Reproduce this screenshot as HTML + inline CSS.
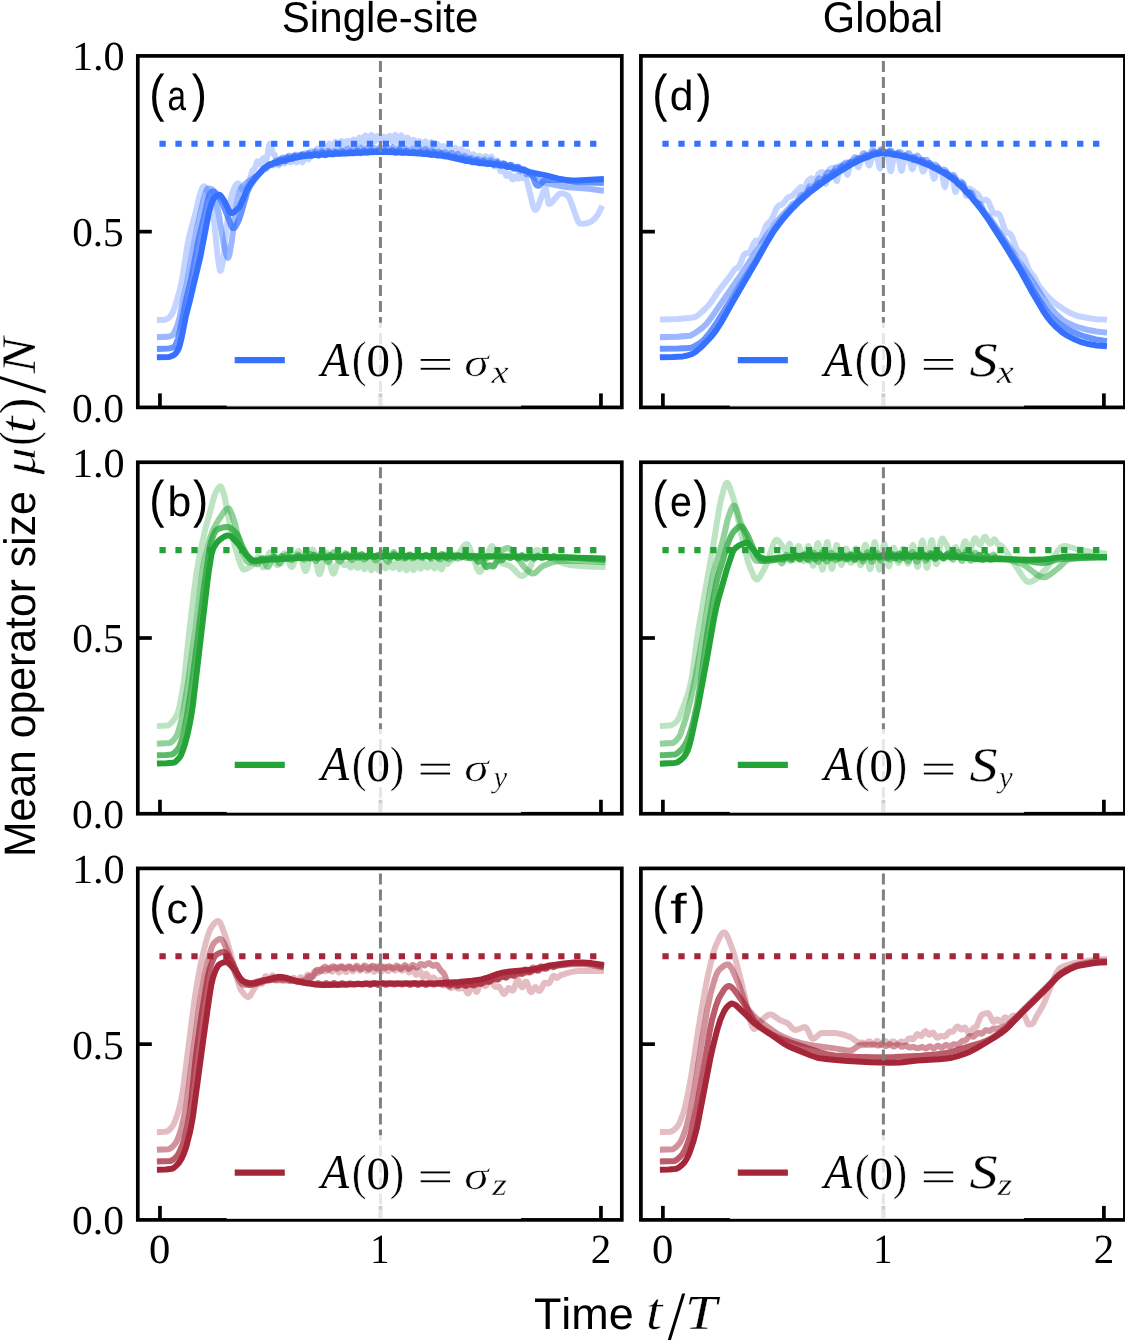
<!DOCTYPE html>
<html><head><meta charset="utf-8"><style>
html,body{margin:0;padding:0;background:#fff;}
body{width:1125px;height:1340px;overflow:hidden;}
svg{display:block;will-change:transform;}
text{font-kerning:none;text-rendering:geometricPrecision;}
</style></head><body>
<svg width="1125" height="1340" viewBox="0 0 1125 1340">
<rect width="1125" height="1340" fill="#fff"/>
<line x1="159.95" y1="407.40" x2="159.95" y2="393.40" stroke="#000" stroke-width="3.7" />
<line x1="380.45" y1="407.40" x2="380.45" y2="393.40" stroke="#000" stroke-width="3.7" />
<line x1="600.95" y1="407.40" x2="600.95" y2="393.40" stroke="#000" stroke-width="3.7" />
<line x1="137.80" y1="231.65" x2="151.80" y2="231.65" stroke="#000" stroke-width="3.7" />
<path d="M159.9 319.9L164.9 319.7L166.9 319.0L168.9 317.8L170.4 316.2L172.4 313.1L173.4 311.0L174.9 306.7L178.9 293.4L181.4 283.2L182.9 274.8L187.4 245.4L189.4 235.4L195.9 211.5L199.4 195.8L202.4 187.6L203.4 186.4L203.9 186.3L204.9 186.9L205.9 188.2L208.4 193.0L210.4 200.5L212.4 211.3L214.4 224.3L217.4 253.8L218.9 264.8L219.9 270.2L220.4 270.9L220.9 270.3L221.4 268.9L223.4 259.3L226.4 229.3L227.9 217.6L230.9 198.4L231.9 194.1L232.9 191.2L235.4 185.7L236.4 184.3L237.4 183.5L238.4 183.6L238.9 184.1L241.4 188.5L242.4 189.8L242.9 190.0L243.9 189.7L245.4 188.1L247.9 184.1L248.9 181.9L252.4 170.7L252.9 170.0L254.4 168.9L254.9 168.1L256.9 162.2L257.4 161.4L257.9 161.2L258.4 161.6L259.9 164.0L260.4 164.4L260.9 164.1L261.4 163.1L262.9 158.9L263.4 158.1L263.9 158.0L265.4 160.3L265.9 160.6L266.4 160.0L267.4 155.8L268.9 146.4L269.4 144.6L269.9 144.0L270.4 144.6L270.9 146.1L272.9 153.4L273.4 154.1L274.4 154.6L274.9 155.2L277.4 163.8L277.9 165.0L278.4 165.5L278.9 165.0L280.9 159.6L281.4 159.1L281.9 159.3L283.9 163.2L284.4 163.4L284.9 163.0L286.4 160.0L287.4 158.7L287.9 158.9L288.4 159.5L289.9 162.1L290.4 162.4L290.9 162.2L292.9 157.9L293.4 157.3L293.9 157.4L295.9 162.0L296.4 162.5L296.9 162.2L297.4 161.1L298.9 156.0L299.4 155.2L299.9 155.4L300.4 156.5L301.9 161.6L302.4 162.2L302.9 161.7L304.9 154.2L305.4 153.4L305.9 153.6L307.4 158.0L307.9 159.2L308.4 159.4L308.9 158.7L310.4 153.3L310.9 151.8L311.4 151.1L311.9 151.1L313.9 154.7L314.4 154.7L314.9 154.1L316.9 149.0L317.4 148.5L317.9 148.5L319.9 151.1L320.4 151.2L320.9 150.9L321.4 150.0L322.9 146.6L323.4 146.0L323.9 146.1L324.4 146.7L325.9 149.9L326.4 150.4L326.9 150.1L327.4 149.0L328.9 144.3L329.4 143.6L329.9 143.7L330.4 144.7L331.9 149.5L332.4 150.1L332.9 149.7L333.4 148.3L334.9 142.5L335.4 141.7L335.9 142.0L337.9 148.4L338.4 148.9L338.9 148.4L340.4 143.1L340.9 141.7L341.4 141.0L341.9 141.3L343.9 146.2L344.4 146.5L344.9 146.0L346.9 141.1L347.4 140.7L347.9 140.9L349.4 143.4L349.9 144.1L350.4 144.3L350.9 144.0L351.4 143.2L352.9 140.0L353.4 139.5L353.9 139.6L355.9 143.1L356.4 143.5L356.9 143.2L358.9 138.2L359.4 137.5L359.9 137.6L360.4 138.5L361.9 142.9L362.4 143.5L362.9 143.1L363.4 141.8L364.9 136.2L365.4 135.5L365.9 135.7L367.9 142.3L368.4 142.9L368.9 142.4L370.4 137.0L370.9 135.5L371.4 134.9L371.9 135.3L373.4 140.0L373.9 141.2L374.4 141.6L374.9 141.2L376.9 136.3L377.4 135.9L377.9 136.3L379.9 140.3L380.4 140.6L380.9 140.4L382.9 136.8L383.4 136.5L383.9 136.7L384.4 137.4L385.9 140.3L386.4 140.7L386.9 140.5L387.4 139.8L388.9 136.4L389.4 135.8L389.9 136.0L390.4 136.9L391.9 141.1L392.4 141.8L392.9 141.5L393.4 140.4L394.9 135.5L395.4 134.9L395.9 135.2L396.4 136.6L397.9 142.2L398.4 142.9L398.9 142.6L400.9 136.1L401.4 135.5L401.9 136.0L403.4 141.4L403.9 142.8L404.4 143.4L404.9 143.1L406.9 137.9L407.4 137.6L407.9 138.1L409.9 143.0L410.4 143.4L410.9 143.2L412.9 139.9L413.4 139.7L413.9 140.0L415.9 144.0L416.4 144.5L416.9 144.5L417.4 144.0L418.9 141.3L419.4 141.0L419.9 141.3L421.9 146.4L422.4 147.1L422.9 147.0L423.4 146.2L424.9 142.0L425.4 141.5L425.9 141.9L426.4 143.2L427.9 148.7L428.4 149.5L428.9 149.3L430.9 142.8L431.4 142.2L431.9 142.7L433.9 149.8L434.4 150.5L434.9 150.1L436.4 145.5L436.9 144.3L437.4 144.0L437.9 144.4L439.9 149.9L440.4 150.4L440.9 150.1L442.9 146.2L443.4 146.0L443.9 146.3L445.4 149.4L446.4 150.7L446.9 150.6L447.4 150.1L448.9 147.5L449.4 147.2L449.9 147.5L451.9 152.1L452.4 152.7L452.9 152.7L453.4 152.0L454.9 148.4L455.4 147.9L455.9 148.3L456.4 149.5L457.9 154.9L458.4 155.8L458.9 155.7L459.4 154.6L460.9 149.7L461.4 149.2L461.9 149.8L463.9 157.4L464.4 158.2L464.9 157.9L466.4 153.3L466.9 152.0L467.4 151.7L467.9 152.2L469.9 158.5L470.4 159.1L470.9 158.8L472.9 154.5L473.4 154.3L473.9 154.7L475.9 158.9L476.4 159.3L476.9 159.2L478.9 156.0L479.4 155.7L479.9 156.0L480.4 156.8L481.9 160.0L482.4 160.5L482.9 160.5L483.4 159.8L484.9 156.5L485.4 156.0L485.9 156.3L486.4 157.4L487.9 162.1L488.4 162.9L488.9 162.8L489.4 161.8L490.9 157.2L491.4 156.7L491.9 157.3L492.4 158.9L493.9 165.3L494.4 166.4L494.9 166.3L496.9 161.2L497.4 161.0L497.9 161.9L499.4 168.3L500.4 171.1L500.9 171.2L502.9 167.8L503.4 167.9L503.9 168.7L505.9 175.0L506.4 175.7L506.9 175.9L508.4 174.2L508.9 173.7L509.4 173.8L509.9 174.3L511.9 178.9L512.5 179.5L513.0 179.5L513.5 178.9L514.5 177.0L515.0 176.3L515.5 176.1L516.0 176.5L517.5 178.5L518.0 178.8L520.0 178.0L525.0 178.0L525.5 178.2L526.0 178.8L527.0 181.1L528.0 184.5L533.0 206.0L534.0 208.7L535.0 209.9L536.0 209.7L537.5 207.5L539.0 203.8L543.0 192.5L544.5 189.7L545.5 188.9L546.0 189.2L546.5 191.1L548.0 201.2L548.5 203.5L549.0 204.0L550.5 203.5L552.0 202.2L557.0 196.0L559.5 193.8L561.0 193.4L563.0 193.6L565.5 194.4L567.5 195.4L569.0 197.4L570.5 200.7L577.0 219.1L578.5 222.1L580.0 223.6L583.5 223.7L587.0 223.2L589.5 222.4L592.0 221.0L594.5 218.8L596.5 216.4L599.0 212.5L600.9 208.5" fill="none" stroke="#3670ff" stroke-opacity="0.30" stroke-width="6" stroke-linejoin="round" stroke-linecap="square" />
<path d="M159.9 337.1L167.4 336.8L170.4 336.1L172.4 335.2L173.4 334.1L174.4 332.4L177.4 325.5L179.9 316.2L182.9 300.3L186.9 283.8L192.9 248.4L196.4 231.0L203.9 198.5L206.4 190.8L207.4 188.8L207.9 188.4L209.4 188.5L210.9 189.0L212.9 190.0L213.4 190.5L214.4 193.1L218.4 212.3L223.4 242.5L226.4 255.0L227.4 257.4L227.9 257.8L228.4 257.4L229.4 254.5L231.9 240.3L235.9 205.3L237.9 196.0L238.9 192.5L239.9 190.1L241.9 187.1L243.9 185.1L248.4 181.4L257.4 175.2L260.9 172.2L263.4 168.9L264.4 168.5L265.9 168.8L266.4 168.5L269.4 164.2L270.4 164.0L271.9 165.1L272.9 165.3L273.9 164.2L275.4 161.2L275.9 160.6L276.4 160.4L276.9 160.6L278.9 163.3L279.4 163.4L280.4 162.0L281.9 158.3L282.4 157.6L282.9 157.5L283.4 157.9L284.9 160.7L285.4 161.3L285.9 161.4L286.4 160.9L288.4 156.4L288.9 155.8L289.4 155.7L289.9 156.2L291.4 158.6L291.9 159.1L292.4 159.1L292.9 158.7L294.9 155.3L295.4 154.8L295.9 154.8L296.4 155.1L298.4 157.1L299.4 156.8L301.9 154.0L302.9 154.1L304.4 155.6L305.4 156.1L306.4 155.3L307.9 153.1L308.4 152.7L308.9 152.6L309.4 152.9L311.4 155.7L311.9 155.9L312.4 155.6L312.9 154.9L314.4 151.8L314.9 151.3L315.4 151.2L315.9 151.7L317.4 154.8L317.9 155.5L318.4 155.7L318.9 155.3L320.9 151.1L321.4 150.6L321.9 150.6L322.4 151.2L323.9 154.2L324.4 154.8L324.9 154.9L325.4 154.6L326.9 151.9L327.9 150.8L328.4 150.8L328.9 151.3L330.4 153.4L331.4 153.9L331.9 153.7L333.4 151.8L334.4 151.0L335.4 151.3L336.9 152.9L337.9 153.3L338.9 152.7L340.4 150.8L341.4 150.3L341.9 150.6L343.9 153.1L344.4 153.2L345.4 152.3L346.9 149.5L347.4 148.9L347.9 148.8L348.4 149.3L349.9 152.1L350.4 152.8L350.9 153.0L351.4 152.6L351.9 151.8L353.4 148.3L353.9 147.8L354.4 147.8L354.9 148.3L356.4 151.5L356.9 152.1L357.4 152.3L357.9 151.9L359.4 149.0L360.4 147.7L360.9 147.8L361.4 148.3L362.9 150.7L363.4 151.1L363.9 151.2L364.4 150.9L366.4 148.3L366.9 148.0L367.9 148.4L369.4 150.0L370.4 150.5L371.4 149.9L372.9 148.1L373.9 147.8L374.4 148.1L376.4 150.4L376.9 150.6L377.9 149.9L379.4 147.6L379.9 147.1L380.4 147.1L380.9 147.5L382.9 151.0L383.4 151.3L383.9 151.0L384.4 150.3L385.9 147.2L386.4 146.6L386.9 146.7L387.4 147.3L388.9 150.6L389.4 151.4L389.9 151.6L390.4 151.3L392.4 147.4L392.9 147.0L393.4 147.1L393.9 147.7L395.4 150.5L395.9 151.1L396.4 151.2L396.9 151.0L398.9 148.2L399.4 148.0L400.4 148.5L402.4 150.8L403.4 150.8L405.4 148.8L406.4 148.6L408.9 151.2L409.4 151.4L410.4 150.8L411.9 148.8L412.4 148.5L412.9 148.5L413.4 148.9L415.4 152.2L415.9 152.5L416.4 152.3L416.9 151.6L418.4 148.8L418.9 148.3L419.4 148.3L419.9 148.9L421.4 152.3L421.9 153.1L422.4 153.4L422.9 153.2L424.9 149.3L425.4 148.9L425.9 149.0L426.4 149.6L427.9 152.8L428.4 153.5L428.9 153.7L429.4 153.5L430.9 151.1L431.9 150.2L432.4 150.4L432.9 150.9L434.4 153.2L435.4 153.8L435.9 153.7L437.4 152.2L438.4 151.6L439.4 152.0L440.9 153.9L441.9 154.6L442.9 154.2L444.4 152.5L444.9 152.3L445.4 152.3L445.9 152.8L447.9 156.0L448.4 156.3L448.9 156.2L449.4 155.7L450.9 153.2L451.4 152.8L451.9 152.9L452.4 153.5L453.9 156.9L454.4 157.8L454.9 158.2L455.4 158.0L455.9 157.3L457.4 154.3L457.9 153.9L458.4 154.1L458.9 154.8L460.4 158.3L460.9 159.1L461.4 159.4L461.9 159.2L463.4 156.8L464.4 155.8L464.9 156.0L465.4 156.6L466.9 159.4L467.9 160.1L468.4 160.0L469.9 158.4L470.9 157.8L471.9 158.4L473.4 160.4L474.4 161.1L475.4 160.7L476.9 159.2L477.9 159.1L478.4 159.5L480.4 162.3L480.9 162.6L481.4 162.5L481.9 162.0L483.4 159.8L483.9 159.4L484.4 159.4L484.9 159.9L486.9 163.8L487.4 164.2L487.9 164.0L488.4 163.3L489.9 160.3L490.4 159.8L490.9 159.9L491.4 160.6L492.9 164.1L493.4 164.9L493.9 165.2L494.4 165.0L495.9 162.2L496.9 161.2L497.4 161.3L497.9 162.0L499.4 164.9L499.9 165.6L500.4 165.8L500.9 165.6L502.9 163.3L503.4 163.2L504.4 163.9L505.9 166.1L506.9 166.9L507.9 166.5L509.4 165.3L510.4 165.4L513.0 168.7L513.5 169.0L514.0 169.0L514.5 168.7L516.0 167.0L516.5 166.8L517.0 166.9L517.5 167.5L519.5 171.6L520.0 172.0L520.5 172.0L521.0 171.5L522.5 169.2L523.0 168.9L523.5 169.1L524.0 169.9L525.0 172.5L526.0 174.2L526.5 174.4L528.0 173.7L529.0 173.8L530.0 174.7L541.5 181.5L544.0 182.7L547.5 183.6L568.0 187.3L586.5 188.6L600.9 190.4" fill="none" stroke="#3670ff" stroke-opacity="0.50" stroke-width="6" stroke-linejoin="round" stroke-linecap="square" />
<path d="M159.9 348.8L168.9 348.4L171.4 347.9L173.9 347.0L174.4 346.7L175.4 345.3L177.9 339.1L179.4 333.3L185.9 300.3L191.4 277.9L198.4 240.6L205.4 211.5L207.9 199.3L208.9 196.1L209.9 194.4L211.9 191.9L212.4 191.6L213.4 191.5L214.4 191.9L215.9 193.0L218.9 196.2L220.9 199.9L226.4 213.0L230.9 225.2L232.4 227.7L232.9 228.1L233.9 228.1L234.9 227.3L235.9 225.8L238.9 219.9L240.4 215.6L247.4 191.7L249.9 186.5L252.4 182.4L254.9 179.0L258.4 174.8L261.4 171.6L264.4 168.8L266.9 166.9L270.9 164.7L273.4 162.9L274.4 162.7L275.9 163.2L276.9 163.0L279.4 160.0L280.4 159.4L280.9 159.4L282.9 161.0L283.4 161.1L284.4 160.5L285.9 158.2L286.9 157.2L287.9 157.2L289.4 158.7L290.4 159.1L291.4 158.6L292.9 156.6L293.9 155.8L294.9 155.9L296.4 157.0L297.4 157.3L298.4 156.9L299.9 155.5L300.9 155.0L301.9 155.1L304.4 156.1L305.4 155.8L307.4 154.4L308.4 154.2L309.4 154.5L310.9 155.5L311.9 155.6L314.9 153.3L315.9 153.4L317.9 155.3L318.9 155.5L321.9 152.5L322.9 152.7L324.4 154.5L325.4 155.2L326.4 154.8L327.9 152.9L328.9 152.2L329.9 152.5L331.4 154.0L332.4 154.5L333.4 154.1L334.9 152.8L335.9 152.3L336.9 152.4L338.4 153.4L339.4 153.7L340.4 153.5L342.4 152.2L343.4 152.0L345.9 153.3L346.9 153.4L347.9 152.9L349.4 151.6L350.4 151.3L351.4 151.8L352.9 153.2L353.9 153.4L356.9 150.6L357.9 150.8L359.9 153.0L360.9 153.2L363.4 150.5L363.9 150.2L364.9 150.5L366.4 152.1L367.4 152.7L368.4 152.3L369.9 150.8L370.9 150.2L371.9 150.5L373.4 151.6L374.4 151.9L375.4 151.7L377.9 150.3L378.9 150.4L380.9 151.6L381.9 151.8L384.4 150.3L385.4 150.1L386.4 150.6L387.9 152.0L388.9 152.2L391.9 149.9L392.9 150.2L394.9 152.5L395.4 152.8L396.4 152.5L397.9 150.7L398.9 150.0L399.9 150.4L401.4 152.2L402.4 153.0L403.4 152.7L404.9 151.2L405.9 150.7L406.9 151.0L408.4 152.4L409.4 152.9L410.4 152.7L411.9 151.7L412.9 151.4L413.9 151.6L416.4 153.1L417.4 153.0L419.4 151.9L420.4 151.8L421.4 152.3L422.9 153.6L423.9 153.9L424.9 153.4L426.4 152.2L427.4 152.0L428.4 152.8L429.9 154.5L430.9 154.9L431.9 154.2L433.4 152.6L433.9 152.4L434.9 152.8L436.4 154.8L437.4 155.6L438.4 155.4L439.9 153.9L440.9 153.3L441.9 153.8L443.4 155.5L444.4 156.2L445.4 156.1L446.9 155.1L447.9 154.9L448.9 155.3L451.4 157.2L452.4 157.3L454.4 156.5L455.4 156.6L457.9 158.6L458.9 159.0L459.9 158.8L461.4 157.8L462.4 157.8L463.4 158.7L464.9 160.5L465.9 161.0L466.9 160.4L468.4 159.0L469.4 158.9L472.4 162.4L473.4 162.2L474.9 160.6L475.9 160.1L476.9 160.6L478.4 162.5L479.4 163.2L480.4 163.0L481.9 161.8L482.9 161.4L483.9 161.8L485.4 163.1L486.4 163.6L487.4 163.5L489.9 162.4L490.9 162.7L492.9 164.1L493.9 164.4L494.9 164.1L496.4 163.2L497.4 163.1L498.4 163.8L499.9 165.3L500.9 165.7L501.9 165.2L503.4 163.8L504.4 163.7L505.4 164.6L506.9 166.7L507.9 167.1L508.4 166.9L510.4 164.9L510.9 164.7L511.9 165.3L514.0 167.9L515.0 168.4L517.0 167.1L518.0 166.8L519.0 167.3L521.5 169.9L522.5 170.1L524.0 169.7L525.0 169.7L526.0 170.4L528.5 173.2L529.5 173.8L531.0 173.9L531.5 174.3L533.0 176.9L535.5 183.7L536.5 185.1L537.5 185.7L539.0 185.6L540.0 185.0L543.5 180.8L545.0 180.0L562.0 180.0L575.5 182.0L600.9 182.9" fill="none" stroke="#3670ff" stroke-opacity="0.75" stroke-width="6" stroke-linejoin="round" stroke-linecap="square" />
<path d="M159.9 357.2L168.4 357.0L170.4 356.6L172.9 355.5L174.4 354.7L175.9 353.2L177.4 351.0L178.9 347.9L179.9 344.7L181.9 336.2L185.9 316.0L189.9 300.4L200.4 256.5L208.9 212.2L210.9 205.1L213.4 199.1L214.4 197.6L216.9 195.6L218.4 194.9L219.4 194.8L219.9 195.0L221.4 196.6L224.4 201.1L228.4 209.5L229.9 211.9L230.9 212.8L231.4 213.0L232.4 212.9L233.9 212.2L236.9 209.6L238.9 207.4L239.9 206.0L241.9 201.8L246.9 189.7L248.9 186.3L251.9 182.0L255.9 177.1L263.4 168.8L266.9 166.0L270.4 164.3L276.9 162.1L294.4 157.8L302.9 156.3L314.9 155.1L326.9 154.3L375.4 152.0L388.4 152.0L406.9 152.7L423.4 153.7L440.9 155.5L448.4 156.8L464.9 160.5L472.4 161.9L479.9 163.0L493.9 164.2L502.9 165.4L518.0 168.6L531.0 172.4L546.0 175.4L558.5 178.7L565.0 179.7L571.5 180.4L577.0 180.6L600.9 179.2" fill="none" stroke="#3670ff" stroke-opacity="1.00" stroke-width="6" stroke-linejoin="round" stroke-linecap="square" />
<line x1="159.45" y1="143.78" x2="600.95" y2="143.78" stroke="#3670ff" stroke-width="6.1" stroke-dasharray="6.3 9.65" />
<line x1="380.45" y1="55.90" x2="380.45" y2="407.40" stroke="#808080" stroke-width="3" stroke-dasharray="11 5" stroke-dashoffset="10.94" />
<rect x="137.80" y="55.90" width="484.00" height="351.50" fill="none" stroke="#000" stroke-width="3.7" />
<rect x="226.70" y="322.70" width="294.30" height="83.80" fill="#fff" fill-opacity="0.8" />
<text transform="translate(149.25 110.77) scale(0.4601 0.5184)" font-family='"Liberation Sans",sans-serif' font-style="normal" font-size="100" fill="#000" >(</text>
<text transform="translate(167.39 110.10) scale(0.3329 0.4200)" font-family='"Liberation Sans",sans-serif' font-style="normal" font-size="100" fill="#000">a</text>
<text transform="translate(191.63 110.77) scale(0.4564 0.5184)" font-family='"Liberation Sans",sans-serif' font-style="normal" font-size="100" fill="#000" >)</text>
<line x1="234.70" y1="360.10" x2="284.80" y2="360.10" stroke="#3670ff" stroke-width="6.2" />
<text transform="translate(320.92 375.60) scale(0.4604 0.4862)" font-family='"Liberation Serif",serif' font-style="italic" font-size="100" fill="#000" >A</text>
<text transform="translate(351.70 376.21) scale(0.4439 0.4996)" font-family='"Liberation Serif",serif' font-style="normal" font-size="100" fill="#000"  stroke="#fff" stroke-width="1.092">(</text>
<text transform="translate(366.41 376.45) scale(0.4695 0.4579)" font-family='"Liberation Serif",serif' font-style="normal" font-size="100" fill="#000" >0</text>
<text transform="translate(389.76 376.21) scale(0.4322 0.4996)" font-family='"Liberation Serif",serif' font-style="normal" font-size="100" fill="#000"  stroke="#fff" stroke-width="1.107">)</text>
<rect x="420.70" y="359.00" width="29.4" height="1.85" fill="#000"/>
<rect x="420.70" y="367.85" width="29.4" height="1.85" fill="#000"/>
<text transform="translate(464.18 376.25) scale(0.4948 0.4054)" font-family='"Liberation Serif",serif' font-style="italic" font-size="100" fill="#000"  stroke="#fff" stroke-width="1.612">σ</text>
<text transform="translate(491.47 383.00) scale(0.3833 0.3333)" font-family='"Liberation Serif",serif' font-style="italic" font-size="100" fill="#000"  stroke="#fff" stroke-width="1.147">x</text>
<line x1="159.95" y1="813.75" x2="159.95" y2="799.75" stroke="#000" stroke-width="3.7" />
<line x1="380.45" y1="813.75" x2="380.45" y2="799.75" stroke="#000" stroke-width="3.7" />
<line x1="600.95" y1="813.75" x2="600.95" y2="799.75" stroke="#000" stroke-width="3.7" />
<line x1="137.80" y1="638.00" x2="151.80" y2="638.00" stroke="#000" stroke-width="3.7" />
<path d="M159.9 725.9L167.4 725.6L168.9 725.0L170.4 723.7L173.9 719.9L175.9 716.7L177.9 712.1L179.4 706.9L181.9 694.2L183.9 681.4L188.9 634.8L193.9 592.1L196.4 573.5L198.9 558.8L201.4 546.4L204.9 531.0L213.4 499.0L214.9 494.4L215.9 492.1L218.4 487.9L219.9 486.5L220.4 486.4L220.9 486.6L221.9 488.2L224.4 495.6L227.9 514.8L230.9 529.3L233.4 540.6L235.4 548.2L239.4 561.3L240.9 565.5L242.4 568.4L243.4 569.4L243.9 569.6L245.4 569.4L247.4 568.6L254.9 563.6L256.9 558.6L257.9 557.1L258.4 557.0L258.9 557.3L259.4 558.1L261.4 564.4L262.4 566.7L262.9 567.3L263.4 567.5L263.9 567.2L265.4 564.2L268.4 554.7L269.4 552.8L270.4 552.2L270.9 552.4L271.9 553.8L275.9 563.9L276.9 565.1L277.4 565.3L278.4 564.7L279.4 563.1L282.9 554.7L283.9 553.4L284.4 553.2L284.9 553.3L285.4 553.7L286.4 555.3L289.4 563.7L290.4 565.9L291.4 567.0L291.9 567.0L292.4 566.6L293.4 564.8L296.9 553.3L297.9 551.3L298.4 550.9L298.9 551.0L299.4 551.5L300.4 553.8L303.4 566.3L304.4 569.6L305.4 571.1L305.9 571.0L306.4 570.4L307.4 567.7L310.9 552.1L311.9 549.7L312.4 549.4L312.9 549.6L313.9 551.8L317.9 571.1L318.9 573.7L319.4 574.1L319.9 573.9L320.4 573.2L321.4 570.1L324.9 554.4L325.9 552.4L326.4 552.2L326.9 552.5L327.9 554.8L331.9 571.5L332.9 573.4L333.4 573.7L333.9 573.4L334.9 571.7L338.4 559.7L338.9 558.5L339.4 558.2L339.9 558.4L340.4 558.9L342.9 563.8L343.9 564.9L344.4 565.1L345.4 565.0L346.9 564.0L347.4 563.8L347.9 564.0L350.4 567.5L350.9 567.5L351.4 566.9L352.9 563.7L353.9 562.7L354.4 562.8L354.9 563.4L356.9 567.5L357.4 567.9L357.9 567.8L358.4 567.1L360.4 562.5L360.9 562.0L361.4 562.1L361.9 562.9L363.9 568.7L364.4 569.3L364.9 569.1L365.4 568.2L366.9 562.8L367.4 561.3L367.9 560.7L368.4 560.9L368.9 562.1L370.4 568.1L370.9 569.7L371.4 570.3L371.9 570.0L372.4 568.8L373.9 562.6L374.4 561.1L374.9 560.5L375.4 560.9L375.9 562.2L377.4 568.0L377.9 569.3L378.4 569.8L378.9 569.4L379.4 568.3L380.9 563.2L381.4 562.1L381.9 561.8L382.4 562.1L382.9 563.1L384.4 567.3L384.9 568.1L385.4 568.5L385.9 568.2L386.4 567.4L387.9 564.0L388.4 563.2L388.9 562.9L389.4 563.1L389.9 563.8L391.9 567.7L392.4 568.0L392.9 567.9L393.4 567.3L395.4 563.0L395.9 562.6L396.4 562.7L396.9 563.4L398.4 567.4L399.4 569.1L399.9 568.9L400.4 568.1L401.9 563.2L402.4 561.9L402.9 561.2L403.4 561.4L403.9 562.5L405.4 568.2L405.9 569.6L406.4 570.3L406.9 570.0L407.4 568.8L408.9 562.7L409.4 561.1L409.9 560.5L410.4 560.8L410.9 562.1L412.4 568.2L412.9 569.6L413.4 570.2L413.9 569.8L414.4 568.6L415.9 563.0L416.4 561.8L416.9 561.3L417.4 561.7L417.9 562.7L419.4 567.4L419.9 568.4L420.4 568.8L420.9 568.5L421.4 567.6L422.9 563.7L423.4 562.9L423.9 562.6L424.4 562.8L424.9 563.5L426.4 566.7L426.9 567.5L427.4 567.8L427.9 567.6L428.4 567.0L430.4 563.0L430.9 562.6L431.4 562.7L431.9 563.3L433.9 567.8L434.4 568.3L434.9 568.2L435.4 567.4L437.4 561.8L437.9 561.2L438.4 561.3L438.9 562.3L440.9 568.8L441.4 569.4L441.9 569.1L442.4 567.9L444.4 560.1L444.9 559.7L445.4 560.2L446.9 563.4L447.4 563.9L447.9 563.9L449.9 561.3L455.9 557.2L457.9 554.7L463.4 546.4L465.4 544.5L466.9 544.0L467.9 544.6L469.4 547.3L476.9 567.9L478.4 571.1L479.4 572.0L479.9 571.9L480.9 571.1L482.4 568.4L486.4 559.0L489.9 548.8L490.9 546.8L491.9 546.0L492.9 546.6L493.9 548.1L497.9 558.6L499.4 561.5L500.4 562.3L501.9 563.1L507.9 565.1L510.4 566.3L512.5 567.9L518.5 574.3L520.0 575.4L521.5 576.0L523.0 575.8L525.0 574.6L527.0 572.4L530.0 568.1L531.5 564.3L535.0 552.0L536.0 550.2L536.5 550.0L538.0 550.2L540.0 551.0L547.0 555.5L559.0 561.4L563.5 563.4L567.0 564.4L571.5 565.2L584.0 566.3L593.5 566.8L602.5 567.0" fill="none" stroke="#24a436" stroke-opacity="0.30" stroke-width="6" stroke-linejoin="round" stroke-linecap="square" />
<path d="M159.9 743.5L168.9 743.0L169.9 742.8L171.4 742.0L173.9 739.6L176.4 736.3L177.4 734.1L178.9 729.5L181.4 720.2L182.9 713.2L187.9 683.8L195.4 629.1L201.9 574.6L203.4 564.9L204.9 557.5L208.9 541.7L210.9 535.5L213.4 529.3L216.9 522.6L223.4 512.7L225.4 510.1L227.4 508.6L228.4 508.4L228.9 508.6L229.9 509.8L232.4 515.7L234.9 523.2L239.4 543.2L243.4 554.7L245.9 560.1L246.9 561.4L247.9 562.0L251.4 562.7L254.9 563.0L256.4 564.0L257.4 564.3L257.9 564.1L258.9 563.0L260.9 558.7L261.4 558.1L261.9 557.8L262.4 557.9L262.9 558.3L263.9 559.9L266.4 565.6L267.4 566.8L267.9 566.9L268.4 566.7L269.4 565.2L271.9 558.9L273.4 556.4L273.9 556.1L274.9 556.6L278.4 562.9L279.4 563.7L279.9 563.7L280.4 563.4L281.4 562.1L284.4 556.3L285.4 555.3L285.9 555.1L286.4 555.2L287.4 555.9L290.4 559.7L291.4 560.3L291.9 560.3L293.4 559.3L295.9 555.9L297.4 554.6L298.4 554.6L299.4 555.2L302.4 558.8L303.9 559.7L304.4 559.6L305.4 559.0L308.9 554.3L309.9 553.8L310.4 553.8L311.9 555.2L314.9 560.3L315.9 560.9L316.4 560.9L317.4 560.0L320.4 553.9L321.4 552.6L321.9 552.4L322.4 552.5L323.4 553.6L326.4 560.4L327.4 561.8L327.9 562.0L328.4 561.8L329.4 560.6L332.4 553.6L333.4 552.3L333.9 552.1L334.4 552.2L335.4 553.5L338.4 560.2L339.4 561.4L339.9 561.5L340.4 561.3L341.4 560.1L343.9 555.1L344.9 553.6L345.4 553.3L345.9 553.2L346.9 553.8L349.9 558.6L351.4 560.0L351.9 560.1L352.9 559.6L355.9 555.7L357.4 554.5L357.9 554.4L358.9 554.8L362.4 558.7L363.9 559.5L365.4 558.8L368.4 555.1L369.9 554.2L370.4 554.2L371.4 554.8L374.4 559.3L375.4 560.3L375.9 560.5L376.4 560.4L377.4 559.6L380.4 554.2L381.4 553.0L381.9 552.8L382.4 552.9L383.4 553.8L386.4 560.2L387.4 561.6L387.9 561.8L388.4 561.7L389.4 560.5L392.4 553.5L393.4 552.2L393.9 552.0L397.4 557.5L398.4 557.9L400.4 556.9L401.4 556.8L403.4 558.2L404.4 558.6L405.4 558.1L407.4 555.6L408.4 555.2L409.4 555.5L411.9 558.1L412.9 558.5L413.9 558.2L416.4 556.1L417.4 555.7L418.4 556.0L421.4 558.1L422.4 558.2L423.4 557.8L425.4 556.0L426.4 555.5L426.9 555.6L427.9 556.1L430.4 558.6L431.4 558.8L432.4 558.1L434.4 555.5L435.4 554.9L435.9 554.9L436.9 555.7L439.4 559.2L440.4 559.4L441.4 558.4L443.4 555.2L444.4 554.5L445.4 555.0L447.9 558.7L448.9 559.4L449.9 558.9L452.4 555.5L453.4 554.9L454.4 555.4L456.9 558.3L457.9 558.7L458.9 558.3L461.4 556.0L462.4 555.6L463.4 555.9L465.9 557.9L466.9 558.2L468.4 557.7L470.9 555.8L471.9 555.7L472.9 556.2L475.4 558.4L476.4 558.6L477.4 558.0L479.9 555.3L480.9 555.1L481.9 555.8L483.9 558.6L484.9 558.9L487.9 556.7L488.9 556.6L490.4 557.0L492.9 556.3L504.9 548.9L506.4 548.3L507.9 548.0L508.9 548.2L509.9 548.8L511.9 550.8L517.5 557.8L522.0 564.4L524.5 567.5L529.5 572.1L531.0 573.0L532.5 573.6L534.0 573.4L535.5 572.7L541.0 567.4L543.0 566.0L551.0 562.7L556.5 561.3L560.0 561.0L579.5 561.1L591.5 561.4L602.5 562.0" fill="none" stroke="#24a436" stroke-opacity="0.50" stroke-width="6" stroke-linejoin="round" stroke-linecap="square" />
<path d="M159.9 755.2L165.9 755.0L171.4 754.5L172.9 753.9L174.4 752.9L177.9 749.1L179.4 746.5L181.4 741.1L183.4 734.3L186.4 719.2L190.9 690.6L198.9 629.1L203.9 587.8L209.4 549.2L210.9 542.1L213.9 534.0L215.9 530.6L216.9 529.7L218.9 528.7L223.4 527.3L227.4 526.9L228.9 527.3L230.4 528.0L233.9 530.9L236.9 534.1L237.9 535.6L242.9 547.6L247.9 556.6L250.4 560.0L251.4 560.7L252.4 561.0L254.9 560.7L261.4 559.1L269.9 558.3L271.4 558.4L273.4 557.1L274.4 556.7L275.4 557.3L276.9 559.2L277.9 559.6L278.9 559.0L280.9 556.6L281.9 556.1L282.9 556.6L284.4 558.0L285.4 558.7L286.4 558.6L289.4 556.4L290.4 556.3L292.9 557.9L293.9 558.2L294.9 557.9L296.9 556.3L297.9 555.9L298.9 556.2L300.9 557.9L301.9 558.3L302.9 557.9L304.9 555.7L305.9 555.2L306.9 555.6L308.9 558.0L309.9 558.6L310.9 558.1L312.9 555.2L313.9 554.6L314.9 555.1L316.9 557.9L317.9 558.4L318.9 557.8L320.9 555.2L321.9 554.7L322.9 555.2L324.9 557.4L325.9 557.7L326.9 557.2L328.9 555.4L329.9 555.1L330.9 555.4L333.4 557.1L334.9 556.8L336.9 555.4L337.9 555.0L338.9 555.3L341.4 557.1L342.4 557.2L343.4 556.5L344.9 555.0L345.9 554.5L346.9 554.9L348.9 557.2L349.9 557.8L350.9 557.3L352.9 554.6L353.9 554.0L354.9 554.6L356.9 557.4L357.9 558.0L358.9 557.4L360.9 554.7L361.9 554.1L362.9 554.7L364.9 557.2L365.9 557.6L366.9 557.1L368.4 555.5L369.4 554.8L370.4 554.8L373.4 557.0L374.4 557.0L376.9 555.3L377.9 555.0L378.9 555.3L380.9 556.7L381.9 557.1L382.9 556.8L384.9 555.1L385.9 554.7L386.9 555.0L388.9 557.1L389.9 557.6L390.9 557.2L392.9 554.7L393.9 554.1L394.9 554.6L396.9 557.4L397.9 558.0L398.9 557.4L400.9 554.6L401.9 554.0L402.9 554.6L404.9 557.3L405.9 557.8L406.9 557.2L408.9 554.9L409.9 554.5L410.9 555.0L412.4 556.5L413.4 557.1L414.4 557.1L416.9 555.3L417.9 555.0L418.9 555.3L421.4 556.9L422.4 557.0L424.9 555.2L425.9 554.8L426.9 555.1L428.9 557.0L429.9 557.4L430.9 557.1L432.9 554.8L433.9 554.3L434.9 554.7L436.9 557.3L437.9 557.9L438.9 557.4L440.9 554.6L441.9 554.0L442.9 554.6L444.9 557.4L445.9 557.9L446.9 557.3L448.9 554.8L449.9 554.3L450.9 554.9L452.9 557.0L453.9 557.4L454.9 557.0L456.9 555.3L457.9 555.1L458.9 555.4L460.9 557.0L461.9 557.4L462.9 557.1L465.4 555.6L466.4 555.7L468.9 557.7L469.9 558.3L470.9 558.1L472.9 556.6L473.9 556.4L474.9 557.2L476.9 560.6L477.9 561.7L478.9 561.7L481.4 559.9L482.4 560.4L485.4 566.4L486.4 567.2L487.4 566.8L488.9 565.5L489.9 565.2L492.4 566.5L493.4 566.5L494.4 565.4L496.4 561.6L497.4 560.1L498.4 559.7L500.9 560.4L501.9 560.2L502.9 559.4L504.9 557.2L505.9 556.6L506.9 556.6L508.9 557.8L509.9 558.1L510.9 557.8L513.5 555.8L514.5 555.7L515.5 556.4L517.0 558.1L518.0 558.7L519.0 558.2L521.0 555.7L522.0 555.1L523.0 555.6L525.0 558.4L526.0 559.0L527.0 558.4L529.0 555.6L530.0 555.1L531.0 555.7L533.0 558.2L534.0 558.7L535.0 558.2L537.0 556.0L538.0 555.6L539.0 556.0L541.0 557.9L542.0 558.2L543.0 557.8L545.0 556.3L546.0 556.0L547.0 556.3L549.5 557.9L550.5 558.0L553.0 556.2L554.0 555.8L556.5 557.4L557.5 557.6L560.0 557.1L570.0 557.5L602.5 559.8" fill="none" stroke="#24a436" stroke-opacity="0.75" stroke-width="6" stroke-linejoin="round" stroke-linecap="square" />
<path d="M159.9 763.5L166.4 763.3L172.9 762.8L174.4 762.4L175.9 761.4L178.4 758.9L180.9 755.4L182.9 750.4L185.4 742.5L187.4 734.9L189.4 725.7L191.4 714.9L192.9 705.0L207.4 581.6L208.9 570.3L211.4 554.8L212.9 549.4L214.4 546.3L216.4 543.1L219.4 540.0L222.4 537.8L224.9 536.3L226.9 535.6L228.9 535.5L230.4 536.0L231.9 537.1L238.9 544.7L244.4 552.6L246.4 555.0L251.4 559.4L253.4 560.6L254.9 561.0L258.9 560.8L267.9 559.7L275.4 559.2L302.9 557.8L340.4 556.7L386.4 556.1L457.4 556.0L539.5 556.9L568.5 557.4L602.5 558.5" fill="none" stroke="#24a436" stroke-opacity="1.00" stroke-width="6" stroke-linejoin="round" stroke-linecap="square" />
<line x1="159.45" y1="550.12" x2="600.95" y2="550.12" stroke="#24a436" stroke-width="6.1" stroke-dasharray="6.3 9.65" />
<line x1="380.45" y1="462.25" x2="380.45" y2="813.75" stroke="#808080" stroke-width="3" stroke-dasharray="11 5" stroke-dashoffset="10.94" />
<rect x="137.80" y="462.25" width="484.00" height="351.50" fill="none" stroke="#000" stroke-width="3.7" />
<rect x="226.70" y="729.05" width="294.30" height="83.80" fill="#fff" fill-opacity="0.8" />
<text transform="translate(149.25 517.12) scale(0.4601 0.5184)" font-family='"Liberation Sans",sans-serif' font-style="normal" font-size="100" fill="#000" >(</text>
<text transform="translate(167.45 516.45) scale(0.4269 0.4200)" font-family='"Liberation Sans",sans-serif' font-style="normal" font-size="100" fill="#000">b</text>
<text transform="translate(193.03 517.12) scale(0.4564 0.5184)" font-family='"Liberation Sans",sans-serif' font-style="normal" font-size="100" fill="#000" >)</text>
<line x1="234.70" y1="764.85" x2="284.80" y2="764.85" stroke="#24a436" stroke-width="6.2" />
<text transform="translate(320.92 780.35) scale(0.4604 0.4862)" font-family='"Liberation Serif",serif' font-style="italic" font-size="100" fill="#000" >A</text>
<text transform="translate(351.70 780.96) scale(0.4439 0.4996)" font-family='"Liberation Serif",serif' font-style="normal" font-size="100" fill="#000"  stroke="#fff" stroke-width="1.092">(</text>
<text transform="translate(366.41 781.20) scale(0.4695 0.4579)" font-family='"Liberation Serif",serif' font-style="normal" font-size="100" fill="#000" >0</text>
<text transform="translate(389.76 780.96) scale(0.4322 0.4996)" font-family='"Liberation Serif",serif' font-style="normal" font-size="100" fill="#000"  stroke="#fff" stroke-width="1.107">)</text>
<rect x="420.70" y="763.75" width="29.4" height="1.85" fill="#000"/>
<rect x="420.70" y="772.60" width="29.4" height="1.85" fill="#000"/>
<text transform="translate(464.18 781.00) scale(0.4948 0.4054)" font-family='"Liberation Serif",serif' font-style="italic" font-size="100" fill="#000"  stroke="#fff" stroke-width="1.612">σ</text>
<text transform="translate(493.58 786.63) scale(0.3088 0.3023)" font-family='"Liberation Serif",serif' font-style="italic" font-size="100" fill="#000"  stroke="#fff" stroke-width="1.339">y</text>
<line x1="159.95" y1="1219.90" x2="159.95" y2="1205.90" stroke="#000" stroke-width="3.7" />
<line x1="380.45" y1="1219.90" x2="380.45" y2="1205.90" stroke="#000" stroke-width="3.7" />
<line x1="600.95" y1="1219.90" x2="600.95" y2="1205.90" stroke="#000" stroke-width="3.7" />
<line x1="137.80" y1="1044.15" x2="151.80" y2="1044.15" stroke="#000" stroke-width="3.7" />
<path d="M159.9 1132.0L164.4 1131.8L166.9 1131.5L168.9 1130.2L171.9 1127.1L173.4 1124.8L174.9 1121.5L177.4 1114.7L178.9 1109.6L180.9 1101.2L182.9 1090.4L194.4 1000.2L196.9 984.4L200.4 965.6L202.9 954.2L205.4 944.4L207.4 937.1L209.4 931.1L210.9 928.1L213.4 924.5L215.4 922.3L217.4 921.1L218.4 921.0L218.9 921.3L220.4 923.3L221.9 926.7L225.9 937.6L228.9 947.5L234.9 969.5L237.9 981.4L239.9 987.9L240.9 989.9L243.9 994.0L245.9 996.0L247.9 996.9L248.9 996.9L250.4 995.5L254.9 987.3L256.4 985.8L258.9 982.1L259.4 981.9L259.9 982.1L261.4 983.8L261.9 983.9L262.4 983.4L264.4 978.1L265.4 976.2L265.9 976.1L266.4 976.6L267.9 979.9L268.4 980.7L268.9 981.0L269.4 980.8L269.9 980.0L271.4 976.5L271.9 975.6L272.4 975.3L272.9 975.5L273.4 976.2L274.9 979.5L275.9 980.5L276.4 980.4L276.9 979.8L278.4 977.3L279.4 976.6L280.4 977.3L281.9 979.6L282.9 980.4L283.9 980.0L285.4 978.2L286.4 977.6L287.4 978.2L288.9 980.2L289.9 981.1L290.4 981.1L290.9 980.8L292.4 978.7L293.4 977.7L293.9 977.8L294.4 978.3L295.9 981.2L296.9 982.4L297.4 982.3L297.9 981.8L299.4 978.5L300.4 977.2L300.9 977.3L301.4 977.9L302.9 981.2L303.4 982.0L303.9 982.2L304.4 981.9L304.9 980.9L306.4 976.5L307.4 974.7L307.9 974.6L308.4 975.1L309.9 977.6L310.4 978.1L310.9 978.1L311.9 976.6L313.4 972.7L314.4 971.1L314.9 971.0L315.4 971.3L316.9 972.9L317.4 973.2L317.9 973.2L318.9 972.1L320.4 969.6L321.4 968.7L322.4 969.0L323.9 970.8L324.9 971.4L325.9 971.0L327.4 968.9L328.4 968.0L328.9 968.0L329.4 968.4L331.4 971.5L331.9 971.8L332.4 971.7L332.9 971.2L334.9 967.4L335.4 966.9L335.9 967.0L336.4 967.6L337.9 971.0L338.9 972.4L339.4 972.2L339.9 971.5L341.4 967.8L341.9 966.8L342.4 966.4L342.9 966.6L343.4 967.3L344.9 970.9L345.4 971.8L345.9 972.1L346.4 971.9L346.9 971.2L348.4 967.9L348.9 967.2L349.4 966.9L349.9 967.1L350.4 967.7L351.9 970.4L352.9 971.3L353.9 970.6L355.4 968.3L356.4 967.6L357.4 968.1L358.9 970.0L359.9 970.7L360.9 970.2L362.9 967.8L363.4 967.6L363.9 967.6L364.9 968.6L366.4 970.8L366.9 971.1L367.4 971.0L368.4 969.8L369.9 967.2L370.4 966.8L370.9 966.8L371.4 967.4L373.4 971.4L373.9 971.8L374.4 971.7L374.9 971.1L376.4 967.5L377.4 966.1L377.9 966.3L378.4 967.0L379.9 970.7L380.4 971.6L380.9 972.0L381.4 971.8L381.9 971.1L383.4 967.5L383.9 966.7L384.4 966.4L384.9 966.6L385.4 967.2L386.9 970.3L387.4 971.0L387.9 971.3L388.4 971.1L388.9 970.5L390.4 968.0L391.4 967.2L392.4 967.8L393.9 969.9L394.9 970.6L395.9 970.1L397.4 968.2L398.4 967.5L399.4 967.9L400.9 969.9L401.9 970.8L402.4 970.7L402.9 970.4L404.4 968.2L405.4 967.3L405.9 967.4L406.4 968.0L408.4 972.0L408.9 972.5L409.4 972.5L409.9 972.1L411.9 968.3L412.4 968.0L412.9 968.2L413.4 969.1L414.9 973.2L415.9 974.9L416.4 974.9L416.9 974.3L418.4 971.2L418.9 970.4L419.4 970.3L419.9 970.6L420.4 971.5L421.9 975.5L422.9 977.0L423.4 977.0L423.9 976.5L425.4 974.3L425.9 973.8L426.4 973.8L427.4 974.9L428.9 977.9L429.9 979.1L430.9 978.9L432.4 977.6L433.4 977.4L434.4 978.2L436.4 981.4L437.4 982.0L438.4 981.5L439.9 980.0L440.4 979.9L440.9 980.1L441.9 981.7L443.4 984.8L443.9 985.3L444.4 985.4L444.9 985.1L446.9 981.8L447.4 981.6L447.9 981.8L448.4 982.6L449.9 986.6L450.9 988.2L451.4 988.2L451.9 987.7L453.4 984.4L453.9 983.7L454.4 983.6L454.9 984.2L456.4 987.3L457.4 988.4L457.9 988.5L459.4 988.1L460.9 988.5L461.9 988.2L463.4 987.4L464.4 987.7L465.4 989.2L466.9 992.6L467.4 993.2L467.9 993.5L468.4 993.3L468.9 992.7L470.9 987.8L471.9 986.0L472.4 985.7L472.9 985.9L473.9 987.4L475.9 991.5L476.4 991.9L476.9 991.7L477.9 990.1L479.9 983.9L480.9 981.9L481.4 981.5L481.9 981.5L482.4 982.0L484.4 985.3L485.4 986.1L485.9 986.0L486.4 985.5L488.9 980.5L489.9 979.5L490.4 979.5L491.4 980.5L493.9 985.5L494.9 986.7L495.9 987.0L498.4 986.3L499.4 986.9L500.4 988.3L502.9 993.2L503.9 994.1L504.4 994.0L505.4 993.0L507.4 989.3L508.4 988.1L509.4 988.1L511.9 990.5L512.5 990.6L513.0 990.4L514.0 988.7L516.5 981.3L517.5 979.9L518.0 980.0L518.5 980.5L521.0 986.3L522.0 987.3L522.5 987.2L523.0 986.6L525.5 981.9L526.0 981.7L526.5 981.9L527.5 983.7L530.0 991.0L531.0 992.2L531.5 992.1L532.0 991.7L534.0 988.2L535.0 987.2L535.5 987.1L536.0 987.3L538.5 990.6L539.5 991.0L540.0 990.7L541.0 989.4L543.0 985.1L544.0 983.4L544.5 982.9L545.5 982.7L548.0 983.6L549.0 983.2L550.0 981.9L552.5 976.9L553.5 975.9L554.0 975.8L556.0 977.6L557.0 978.0L558.0 977.4L559.5 976.0L561.0 975.2L568.0 972.8L574.0 971.4L578.5 971.0L600.9 971.0" fill="none" stroke="#a52638" stroke-opacity="0.30" stroke-width="6" stroke-linejoin="round" stroke-linecap="square" />
<path d="M159.9 1149.6L168.4 1149.2L170.4 1148.4L172.4 1146.7L175.4 1143.4L176.9 1140.8L178.9 1136.0L180.9 1129.9L183.9 1116.9L186.9 1100.3L198.9 1008.5L200.9 995.3L204.4 975.7L207.4 962.1L209.9 953.0L211.9 946.9L212.9 944.6L213.9 943.1L216.4 940.7L218.4 939.4L219.9 939.0L220.9 939.2L221.9 939.9L223.4 942.1L228.9 954.3L233.4 968.6L235.4 973.9L238.4 979.3L240.4 982.4L242.4 984.4L243.9 985.0L246.9 984.6L259.9 980.7L263.9 980.0L272.4 980.1L297.4 981.0L299.9 981.0L302.4 980.5L304.9 980.5L305.9 979.9L307.9 977.1L308.9 976.2L309.9 976.1L311.9 977.0L312.9 976.6L313.9 975.3L315.9 971.1L316.9 969.9L317.9 969.7L319.9 971.2L320.9 971.3L321.9 970.3L323.9 967.2L324.9 966.6L325.9 967.2L327.4 969.1L328.4 969.9L329.4 969.6L331.9 966.6L332.9 966.3L333.9 966.8L335.4 968.2L336.4 968.8L337.4 968.6L339.4 967.0L340.4 966.5L341.4 966.6L343.9 968.2L344.9 968.5L345.9 968.1L347.9 966.6L348.9 966.3L349.9 966.6L351.9 968.5L352.9 968.8L353.9 968.4L355.9 966.1L356.9 965.7L357.9 966.3L359.9 968.8L360.9 969.3L361.9 968.6L363.9 965.8L364.9 965.4L365.9 966.1L367.9 968.9L368.9 969.2L369.9 968.5L371.4 966.5L372.4 965.7L373.4 965.9L375.9 968.4L376.9 968.7L377.9 968.1L379.9 966.4L380.9 966.2L381.9 966.6L383.9 968.1L384.9 968.3L385.9 967.9L387.9 966.5L388.9 966.2L389.9 966.5L391.9 968.2L392.9 968.5L393.9 968.1L395.9 966.0L396.9 965.6L397.9 966.1L399.9 968.5L400.9 969.0L401.9 968.3L403.9 965.6L404.9 965.1L405.9 965.8L407.9 968.6L408.9 969.0L409.9 968.2L411.4 966.0L412.4 965.1L413.4 965.1L415.4 967.1L416.4 967.6L417.4 967.2L419.4 964.8L420.4 964.0L421.4 963.9L423.9 965.3L424.9 965.4L427.9 963.3L428.9 963.0L429.9 963.4L431.9 965.2L432.9 965.7L433.9 965.7L435.9 964.8L436.9 964.9L437.4 965.3L440.9 970.6L443.4 973.0L444.4 974.6L445.4 977.2L447.4 983.9L448.4 986.2L448.9 986.6L449.4 986.6L449.9 986.1L451.9 983.3L452.9 982.9L453.9 983.6L455.9 986.1L456.9 986.4L457.9 985.7L459.4 983.9L460.4 983.1L461.4 983.3L463.4 985.0L464.4 985.5L465.4 985.3L467.9 983.3L468.9 983.1L469.9 983.4L471.9 984.6L472.9 984.7L473.9 984.3L475.9 982.4L476.9 981.9L477.9 982.1L479.9 983.5L480.9 983.7L481.9 982.9L483.9 980.1L484.9 979.4L485.9 979.7L487.9 981.8L488.9 982.0L489.9 981.0L491.9 977.6L492.9 976.9L493.9 977.3L495.9 979.5L496.9 979.6L497.9 978.6L499.4 976.3L500.4 975.3L501.4 975.3L503.9 977.1L504.9 977.1L508.4 973.8L509.4 973.7L511.9 974.8L513.0 974.7L514.0 974.1L516.0 972.2L517.0 971.6L518.0 971.7L520.0 973.0L521.0 973.1L522.0 972.4L524.0 969.9L525.0 969.2L526.0 969.6L528.0 971.6L529.0 971.9L530.0 971.0L532.0 967.9L533.0 967.3L534.0 967.8L536.0 970.2L537.0 970.5L538.0 969.6L540.0 966.6L541.0 966.1L542.0 966.6L543.5 968.2L544.5 968.7L545.5 968.4L548.0 965.8L549.0 965.4L552.5 967.2L553.5 967.0L555.5 965.5L556.5 965.2L559.0 965.5L571.0 964.3L580.0 964.0L589.5 964.8L600.9 967.0" fill="none" stroke="#a52638" stroke-opacity="0.50" stroke-width="6" stroke-linejoin="round" stroke-linecap="square" />
<path d="M159.9 1161.3L170.4 1160.9L172.4 1160.1L174.4 1158.6L177.4 1155.5L179.4 1152.1L182.4 1144.8L184.4 1138.5L187.4 1126.0L189.9 1111.9L191.4 1099.4L195.4 1060.4L197.4 1044.3L201.9 1012.8L207.9 976.6L209.9 968.2L213.4 958.7L215.4 955.5L216.9 954.4L219.4 953.0L221.9 952.2L223.9 952.0L224.9 952.4L226.4 953.7L228.4 956.4L232.9 963.6L237.4 973.7L239.4 977.3L242.9 981.0L245.4 983.2L247.9 984.6L249.9 985.0L254.4 984.4L263.4 981.4L272.9 979.0L276.9 978.2L279.9 978.0L285.4 978.6L298.4 981.8L302.9 982.1L305.9 983.3L306.9 983.3L309.9 982.7L310.9 982.9L313.4 984.0L314.4 984.1L318.4 983.3L321.9 984.7L322.9 984.6L325.4 983.3L326.4 983.2L327.4 983.5L329.4 984.8L330.4 984.9L333.9 983.0L334.9 983.2L336.9 984.6L337.9 984.9L338.9 984.8L340.9 983.5L341.9 983.2L342.9 983.3L344.9 984.4L345.9 984.7L346.9 984.6L349.9 983.4L350.9 983.5L353.9 984.5L358.4 983.5L361.4 984.5L362.4 984.6L365.4 983.4L366.4 983.3L367.4 983.6L369.4 984.7L370.4 984.9L371.4 984.5L373.4 983.2L374.4 983.0L377.9 985.0L378.9 984.8L380.9 983.5L381.9 983.1L382.9 983.3L384.9 984.5L385.9 984.8L386.9 984.6L388.9 983.6L389.9 983.4L390.9 983.5L393.9 984.5L394.9 984.4L397.4 983.6L398.4 983.5L401.4 984.4L402.4 984.5L405.4 983.5L406.4 983.3L407.4 983.6L409.4 984.7L410.4 984.8L411.4 984.5L413.4 983.2L414.4 983.1L415.4 983.5L417.4 984.8L418.4 985.0L421.9 983.0L422.9 983.2L424.9 984.5L425.9 984.9L426.9 984.7L428.9 983.6L429.9 983.3L430.9 983.4L433.9 984.6L434.9 984.5L437.9 983.5L442.4 984.5L445.4 983.6L446.4 983.5L449.4 984.8L450.4 985.0L451.4 984.7L453.4 983.7L454.4 983.6L455.4 984.0L457.4 985.4L458.4 985.6L459.4 985.3L461.4 984.0L462.4 983.9L465.4 985.7L466.4 985.9L469.9 984.2L470.9 984.3L472.9 985.3L473.9 985.4L474.9 985.2L477.9 983.6L481.9 983.7L486.4 981.4L489.4 981.5L490.4 981.3L493.4 979.1L494.4 978.7L495.4 978.7L497.4 979.4L498.4 979.3L501.4 976.9L502.4 976.5L505.9 977.7L506.9 977.3L508.9 975.6L509.9 975.0L510.9 975.0L513.0 975.8L514.0 975.9L515.0 975.5L518.0 973.7L519.0 973.6L522.0 974.0L526.5 972.1L529.5 972.4L530.5 972.2L533.5 970.4L534.5 970.0L535.5 970.0L537.5 970.6L538.5 970.5L542.0 967.8L543.0 967.6L545.0 968.5L546.0 968.6L547.0 968.3L549.5 966.0L550.5 965.7L554.0 966.8L557.5 965.2L560.0 965.0L571.5 963.4L579.5 963.0L584.5 963.2L590.0 963.8L595.5 964.7L600.9 966.0" fill="none" stroke="#a52638" stroke-opacity="0.75" stroke-width="6" stroke-linejoin="round" stroke-linecap="square" />
<path d="M159.9 1169.7L165.9 1169.5L171.9 1168.7L173.4 1168.1L175.4 1166.5L178.9 1162.9L181.4 1159.0L183.9 1153.6L186.4 1146.2L190.4 1130.3L192.9 1116.7L203.4 1038.8L209.4 996.6L211.4 984.3L212.9 978.0L214.9 972.1L216.4 968.6L218.4 965.3L219.4 964.4L221.9 963.0L223.9 962.2L225.9 962.0L226.9 962.2L228.4 963.1L230.4 964.9L234.9 969.9L239.9 977.9L241.9 980.4L243.9 981.5L248.4 982.9L251.4 983.3L254.4 983.0L263.9 980.3L273.4 977.8L277.4 977.1L280.4 977.0L283.4 977.3L286.4 977.9L296.9 981.2L300.9 982.2L314.4 984.4L322.9 985.0L336.9 984.8L376.4 983.5L433.4 983.5L458.9 982.0L471.9 980.8L481.4 979.4L486.4 978.0L497.9 973.8L503.4 972.4L509.9 971.6L530.0 969.7L535.5 968.7L550.5 965.4L564.0 963.5L574.0 962.5L582.0 962.4L591.5 963.1L600.9 964.5" fill="none" stroke="#a52638" stroke-opacity="1.00" stroke-width="6" stroke-linejoin="round" stroke-linecap="square" />
<line x1="159.45" y1="956.27" x2="600.95" y2="956.27" stroke="#a52638" stroke-width="6.1" stroke-dasharray="6.3 9.65" />
<line x1="380.45" y1="868.40" x2="380.45" y2="1219.90" stroke="#808080" stroke-width="3" stroke-dasharray="11 5" stroke-dashoffset="10.94" />
<rect x="137.80" y="868.40" width="484.00" height="351.50" fill="none" stroke="#000" stroke-width="3.7" />
<rect x="226.70" y="1135.20" width="294.30" height="83.80" fill="#fff" fill-opacity="0.8" />
<text transform="translate(149.25 923.27) scale(0.4601 0.5184)" font-family='"Liberation Sans",sans-serif' font-style="normal" font-size="100" fill="#000" >(</text>
<text transform="translate(166.58 922.60) scale(0.4291 0.4200)" font-family='"Liberation Sans",sans-serif' font-style="normal" font-size="100" fill="#000">c</text>
<text transform="translate(190.23 923.27) scale(0.4564 0.5184)" font-family='"Liberation Sans",sans-serif' font-style="normal" font-size="100" fill="#000" >)</text>
<line x1="234.70" y1="1172.60" x2="284.80" y2="1172.60" stroke="#a52638" stroke-width="6.2" />
<text transform="translate(320.92 1188.10) scale(0.4604 0.4862)" font-family='"Liberation Serif",serif' font-style="italic" font-size="100" fill="#000" >A</text>
<text transform="translate(351.70 1188.71) scale(0.4439 0.4996)" font-family='"Liberation Serif",serif' font-style="normal" font-size="100" fill="#000"  stroke="#fff" stroke-width="1.092">(</text>
<text transform="translate(366.41 1188.95) scale(0.4695 0.4579)" font-family='"Liberation Serif",serif' font-style="normal" font-size="100" fill="#000" >0</text>
<text transform="translate(389.76 1188.71) scale(0.4322 0.4996)" font-family='"Liberation Serif",serif' font-style="normal" font-size="100" fill="#000"  stroke="#fff" stroke-width="1.107">)</text>
<rect x="420.70" y="1171.50" width="29.4" height="1.85" fill="#000"/>
<rect x="420.70" y="1180.35" width="29.4" height="1.85" fill="#000"/>
<text transform="translate(464.18 1188.75) scale(0.4948 0.4054)" font-family='"Liberation Serif",serif' font-style="italic" font-size="100" fill="#000"  stroke="#fff" stroke-width="1.612">σ</text>
<text transform="translate(492.22 1194.90) scale(0.3771 0.3181)" font-family='"Liberation Serif",serif' font-style="italic" font-size="100" fill="#000"  stroke="#fff" stroke-width="1.188">z</text>
<line x1="662.90" y1="407.40" x2="662.90" y2="393.40" stroke="#000" stroke-width="3.7" />
<line x1="883.40" y1="407.40" x2="883.40" y2="393.40" stroke="#000" stroke-width="3.7" />
<line x1="1103.90" y1="407.40" x2="1103.90" y2="393.40" stroke="#000" stroke-width="3.7" />
<line x1="640.90" y1="231.65" x2="654.90" y2="231.65" stroke="#000" stroke-width="3.7" />
<path d="M662.9 319.4L678.4 318.9L693.4 317.4L695.4 316.8L697.4 315.7L702.4 311.5L707.4 306.6L709.9 303.7L719.4 289.8L730.4 275.7L733.9 270.3L735.4 268.8L737.9 267.5L738.9 266.3L740.4 263.3L742.9 256.9L744.4 254.2L745.9 253.2L748.4 253.2L749.9 251.9L750.9 250.1L753.9 243.0L755.4 240.9L756.4 240.5L758.9 240.7L759.9 240.2L760.4 239.6L761.9 236.7L765.9 226.1L767.4 223.8L769.9 221.6L771.4 219.7L772.9 216.8L775.9 209.6L777.4 207.0L778.9 205.6L781.9 204.4L782.9 203.7L784.4 202.0L786.9 198.6L788.4 197.2L791.4 196.5L792.4 195.8L794.9 192.9L795.9 192.1L798.4 189.2L800.9 186.9L801.4 186.9L801.9 187.3L803.4 190.5L803.9 191.2L804.4 191.0L804.9 190.0L806.9 182.7L807.9 180.9L808.9 180.0L811.4 178.3L811.9 178.3L812.4 178.6L812.9 179.5L814.4 184.2L814.9 185.0L815.4 184.7L815.9 183.4L817.4 176.8L818.4 174.2L819.9 173.0L821.9 172.1L822.4 172.1L822.9 172.5L823.4 173.6L825.4 183.0L825.9 183.8L826.4 182.9L827.9 174.3L828.9 170.2L829.9 168.8L832.9 167.8L833.4 168.1L833.9 168.9L834.4 170.7L835.9 179.4L836.4 181.1L836.9 181.1L837.4 179.3L839.4 167.4L839.9 166.0L840.4 165.4L843.4 164.3L843.9 164.3L844.4 164.6L845.4 167.3L846.9 174.0L847.4 174.7L847.9 173.9L848.4 171.8L849.9 164.2L850.9 161.9L851.9 161.3L854.4 160.5L855.4 160.9L856.4 163.0L857.4 166.2L857.9 167.1L858.4 167.2L858.9 166.3L860.9 159.7L861.9 158.5L863.4 158.1L865.4 157.9L866.4 158.6L868.4 164.5L868.9 165.4L869.4 165.4L869.9 164.3L871.4 159.0L872.4 157.1L873.4 156.7L875.4 156.5L876.4 156.6L876.9 157.1L877.4 158.2L879.4 167.4L879.9 168.3L880.4 167.7L880.9 165.8L882.4 158.3L882.9 157.0L883.4 156.3L884.4 156.0L886.9 156.2L887.4 156.6L887.9 157.7L888.4 159.6L889.9 168.9L890.4 170.9L890.9 171.2L891.4 169.7L893.4 158.5L893.9 157.4L894.4 156.9L897.4 157.2L898.4 158.1L899.4 161.6L900.9 169.8L901.4 170.8L901.9 170.3L903.4 162.8L904.4 159.3L904.9 158.7L905.4 158.5L907.9 159.0L908.9 159.5L909.4 160.3L911.4 167.4L911.9 168.8L912.4 169.1L912.9 168.4L914.9 162.3L915.4 161.7L915.9 161.6L918.9 162.5L919.9 163.2L920.9 165.2L922.4 170.4L922.9 171.5L923.4 171.6L923.9 170.9L925.4 166.7L926.4 165.5L927.4 165.5L930.4 166.8L931.4 168.6L933.4 177.7L933.9 178.8L934.4 178.5L934.9 177.0L935.9 172.6L936.9 169.9L937.4 169.5L937.9 169.4L940.9 170.7L941.9 172.5L943.9 184.1L944.4 186.3L944.9 186.9L945.4 185.6L947.4 175.4L947.9 174.5L948.4 174.2L948.9 174.3L951.4 175.6L952.4 177.0L953.4 181.1L954.9 190.6L955.4 192.0L955.9 191.7L956.4 189.9L957.9 182.3L958.4 181.1L958.9 180.7L959.4 180.7L962.4 182.9L963.4 184.5L965.4 193.5L965.9 195.2L966.4 195.8L966.9 195.2L968.9 189.1L969.4 188.6L969.9 188.6L974.4 192.0L977.4 193.8L978.9 195.7L980.9 199.0L981.9 199.9L982.9 200.3L985.9 199.8L986.9 200.2L987.9 201.1L988.9 202.8L991.9 210.0L993.4 212.7L994.9 213.7L997.9 213.5L998.9 214.2L999.4 214.8L1000.9 218.0L1003.9 227.2L1005.4 230.7L1006.9 232.4L1009.4 233.4L1010.9 234.8L1012.4 237.7L1015.4 245.9L1016.9 249.4L1018.4 251.5L1021.9 254.3L1023.4 256.4L1024.9 259.6L1028.4 268.5L1029.9 271.5L1034.4 277.1L1037.9 284.1L1039.4 286.6L1044.4 292.7L1048.9 297.6L1053.9 302.3L1058.9 306.0L1067.4 311.5L1074.4 314.9L1078.9 316.3L1089.4 318.3L1096.9 319.2L1104.0 319.5" fill="none" stroke="#3670ff" stroke-opacity="0.30" stroke-width="6" stroke-linejoin="round" stroke-linecap="square" />
<path d="M662.9 337.1L677.4 336.8L689.4 335.8L691.4 335.1L693.9 333.7L699.4 330.0L702.4 327.7L706.9 323.3L711.4 317.4L740.9 274.6L766.9 235.3L773.4 226.0L780.4 217.4L789.9 207.2L792.4 204.1L793.4 203.4L795.9 202.7L796.4 202.3L800.4 195.4L801.4 194.7L804.4 195.1L805.4 194.4L806.4 192.9L808.9 187.4L809.9 186.2L810.9 186.2L813.4 188.1L814.4 187.6L815.4 185.8L817.9 179.5L818.9 178.4L819.9 178.8L821.9 181.1L822.4 181.4L822.9 181.3L823.9 180.1L826.4 174.0L827.4 172.5L828.4 172.3L830.9 174.4L831.9 174.4L832.9 173.3L835.4 168.6L836.4 167.4L837.4 167.2L839.9 168.3L840.9 168.2L841.9 167.3L844.9 163.1L845.9 162.4L846.9 162.4L849.4 163.6L850.4 163.3L851.4 162.2L853.4 158.7L854.4 157.5L855.4 157.3L858.4 160.1L859.4 160.0L860.4 158.7L862.9 153.6L863.9 153.0L864.9 153.7L866.9 156.8L867.9 157.4L868.9 156.6L871.4 151.2L872.4 150.0L872.9 149.9L873.4 150.2L875.9 153.6L876.9 154.1L877.9 153.5L880.4 149.6L881.4 149.0L882.4 149.3L885.4 152.7L885.9 152.9L886.9 152.7L889.4 150.6L890.4 150.4L891.9 151.2L894.4 154.0L895.4 154.4L896.4 154.0L898.9 151.9L899.9 151.9L900.9 152.7L903.4 156.5L904.4 157.0L905.4 156.5L907.9 153.3L908.4 153.1L908.9 153.2L909.9 154.5L912.4 159.5L912.9 160.0L913.4 160.1L914.4 159.3L916.4 156.1L917.4 155.5L918.4 156.4L920.9 161.6L921.9 162.8L922.4 162.9L922.9 162.7L925.4 159.9L926.4 159.7L927.4 160.5L929.9 164.9L930.9 166.0L931.9 166.1L934.4 164.7L935.4 164.7L936.4 165.5L938.9 169.2L939.9 170.2L940.4 170.4L941.4 170.4L943.9 169.5L944.9 169.9L945.9 171.1L948.4 175.5L949.4 176.5L950.4 176.4L952.9 174.8L953.9 175.3L954.9 176.9L956.9 182.1L957.9 183.9L958.9 184.5L959.4 184.3L961.4 182.5L961.9 182.3L962.4 182.5L963.4 184.0L965.9 191.2L966.9 193.2L967.9 193.8L970.4 192.3L971.4 192.7L972.4 194.3L974.9 200.8L975.9 202.6L976.9 203.4L979.4 203.4L980.4 204.2L981.4 205.8L984.4 212.3L985.4 213.5L987.4 214.9L988.4 216.0L1003.4 237.6L1019.9 262.7L1034.9 284.8L1043.9 299.6L1049.4 306.5L1055.4 313.3L1059.9 317.7L1063.9 320.8L1067.9 323.1L1073.9 325.8L1080.4 328.0L1086.9 329.7L1096.4 331.5L1104.0 332.3" fill="none" stroke="#3670ff" stroke-opacity="0.50" stroke-width="6" stroke-linejoin="round" stroke-linecap="square" />
<path d="M662.9 348.8L678.4 348.6L689.4 348.1L691.9 347.4L694.9 346.1L700.4 342.7L702.4 341.1L705.4 338.0L709.4 333.3L716.4 323.2L738.9 287.2L755.4 261.7L769.4 237.1L774.4 229.0L782.4 218.3L791.9 207.5L800.4 198.9L802.4 196.6L803.4 195.9L805.9 195.2L808.9 190.5L809.9 189.4L810.9 189.0L812.9 188.7L813.9 188.1L817.4 183.8L818.4 183.0L820.9 182.4L821.9 181.9L825.9 177.4L826.9 176.9L828.9 177.0L829.9 176.6L830.9 175.6L832.9 172.6L833.9 171.6L834.9 171.4L836.9 172.1L837.9 171.9L838.9 170.8L840.9 167.5L841.9 166.6L842.9 166.5L844.9 167.4L845.9 167.1L849.4 162.5L850.4 162.1L852.9 162.5L853.9 162.2L856.9 159.1L857.9 158.4L858.9 158.2L860.9 158.5L861.9 158.3L865.4 155.5L866.4 155.2L868.9 155.7L869.9 155.6L870.9 155.0L872.9 152.8L873.9 152.2L874.9 152.3L876.9 153.6L877.9 153.8L878.9 153.2L880.9 151.0L881.9 150.5L882.9 151.0L884.9 153.2L885.9 153.7L886.9 153.3L888.9 151.6L889.9 151.4L890.9 152.1L892.9 154.2L893.9 154.7L894.9 154.4L896.4 153.6L897.4 153.3L898.4 153.6L900.9 155.5L901.9 155.9L902.9 155.9L904.9 155.3L905.9 155.4L909.9 158.1L910.9 158.1L912.9 157.3L913.9 157.3L914.9 157.9L916.9 160.3L917.9 160.9L918.9 160.9L920.9 159.7L921.9 159.7L922.9 160.5L924.9 163.4L925.9 164.3L926.9 164.2L928.9 163.0L929.9 163.2L930.9 164.1L932.9 167.0L933.9 167.8L934.9 167.9L936.4 167.4L937.4 167.4L938.4 168.0L940.9 170.9L941.9 171.6L942.9 171.9L944.9 172.0L945.9 172.4L949.9 176.6L950.9 177.0L952.9 177.3L953.9 177.8L954.9 178.8L957.9 183.2L958.9 183.8L960.9 184.0L961.9 184.6L962.9 186.0L964.9 190.1L965.9 191.6L966.9 192.2L968.9 192.3L969.9 193.1L973.4 199.9L974.4 200.9L976.4 202.0L977.4 203.1L996.4 230.0L1006.4 245.2L1015.9 260.4L1021.9 270.3L1032.4 288.7L1040.9 302.5L1045.4 309.4L1049.4 314.5L1054.9 320.0L1060.4 324.7L1065.4 328.1L1071.4 331.2L1078.9 334.5L1086.4 337.0L1095.9 339.4L1104.0 340.8" fill="none" stroke="#3670ff" stroke-opacity="0.75" stroke-width="6" stroke-linejoin="round" stroke-linecap="square" />
<path d="M662.9 357.2L672.9 357.0L682.9 356.4L687.4 355.5L692.4 353.8L695.4 352.0L700.4 347.8L711.9 335.8L715.9 330.7L720.4 323.7L731.9 303.2L755.9 262.1L766.9 242.4L772.9 232.6L778.9 224.2L785.9 215.6L792.9 207.8L799.9 200.9L810.4 191.8L823.4 182.1L834.4 174.8L852.4 163.8L860.4 159.6L870.4 155.7L876.9 153.7L881.9 153.0L888.4 153.5L901.9 156.1L912.4 158.9L921.9 162.1L931.4 166.3L942.4 172.1L949.9 176.8L956.4 181.7L963.9 189.0L973.4 199.6L980.9 209.1L988.9 220.3L1005.4 246.2L1016.4 264.1L1021.9 273.5L1032.9 293.5L1042.9 310.5L1046.9 316.7L1050.9 321.6L1056.9 327.8L1062.4 332.5L1066.9 335.4L1074.4 339.3L1080.9 342.0L1086.9 343.7L1096.9 345.5L1104.0 346.1" fill="none" stroke="#3670ff" stroke-opacity="1.00" stroke-width="6" stroke-linejoin="round" stroke-linecap="square" />
<line x1="662.40" y1="143.78" x2="1103.90" y2="143.78" stroke="#3670ff" stroke-width="6.1" stroke-dasharray="6.3 9.65" />
<line x1="883.40" y1="55.90" x2="883.40" y2="407.40" stroke="#808080" stroke-width="3" stroke-dasharray="11 5" stroke-dashoffset="10.94" />
<rect x="640.90" y="55.90" width="484.00" height="351.50" fill="none" stroke="#000" stroke-width="3.7" />
<rect x="729.80" y="322.70" width="294.30" height="83.80" fill="#fff" fill-opacity="0.8" />
<text transform="translate(652.35 110.77) scale(0.4601 0.5184)" font-family='"Liberation Sans",sans-serif' font-style="normal" font-size="100" fill="#000" >(</text>
<text transform="translate(669.81 110.10) scale(0.4269 0.4200)" font-family='"Liberation Sans",sans-serif' font-style="normal" font-size="100" fill="#000">d</text>
<text transform="translate(696.53 110.77) scale(0.4564 0.5184)" font-family='"Liberation Sans",sans-serif' font-style="normal" font-size="100" fill="#000" >)</text>
<line x1="737.80" y1="360.10" x2="787.90" y2="360.10" stroke="#3670ff" stroke-width="6.2" />
<text transform="translate(824.02 375.60) scale(0.4604 0.4862)" font-family='"Liberation Serif",serif' font-style="italic" font-size="100" fill="#000" >A</text>
<text transform="translate(854.80 376.21) scale(0.4439 0.4996)" font-family='"Liberation Serif",serif' font-style="normal" font-size="100" fill="#000"  stroke="#fff" stroke-width="1.092">(</text>
<text transform="translate(869.51 376.45) scale(0.4695 0.4579)" font-family='"Liberation Serif",serif' font-style="normal" font-size="100" fill="#000" >0</text>
<text transform="translate(892.86 376.21) scale(0.4322 0.4996)" font-family='"Liberation Serif",serif' font-style="normal" font-size="100" fill="#000"  stroke="#fff" stroke-width="1.107">)</text>
<rect x="923.80" y="359.00" width="29.4" height="1.85" fill="#000"/>
<rect x="923.80" y="367.85" width="29.4" height="1.85" fill="#000"/>
<text transform="translate(969.59 375.98) scale(0.5612 0.4837)" font-family='"Liberation Serif",serif' font-style="italic" font-size="100" fill="#000"  stroke="#fff" stroke-width="0.582">S</text>
<text transform="translate(996.87 383.00) scale(0.3833 0.3333)" font-family='"Liberation Serif",serif' font-style="italic" font-size="100" fill="#000"  stroke="#fff" stroke-width="1.147">x</text>
<line x1="662.90" y1="813.75" x2="662.90" y2="799.75" stroke="#000" stroke-width="3.7" />
<line x1="883.40" y1="813.75" x2="883.40" y2="799.75" stroke="#000" stroke-width="3.7" />
<line x1="1103.90" y1="813.75" x2="1103.90" y2="799.75" stroke="#000" stroke-width="3.7" />
<line x1="640.90" y1="638.00" x2="654.90" y2="638.00" stroke="#000" stroke-width="3.7" />
<path d="M662.9 725.9L669.4 725.6L671.4 725.3L674.4 723.5L677.4 720.5L679.4 716.7L684.9 702.6L687.4 695.4L689.4 688.5L690.9 682.2L692.4 673.4L696.9 639.3L698.9 626.2L713.9 541.6L719.4 507.3L720.9 500.0L723.9 488.7L725.4 484.5L726.4 483.0L726.9 482.8L727.9 483.4L729.4 486.2L733.9 500.0L740.9 532.7L745.4 552.0L747.9 561.4L749.4 565.9L753.4 575.6L754.9 578.1L756.4 579.4L756.9 579.5L757.9 579.1L759.9 576.9L765.4 566.5L767.4 561.7L771.4 549.4L773.4 543.9L774.9 541.1L776.4 539.7L777.4 539.9L778.9 541.2L782.9 547.4L785.9 550.9L786.4 550.8L786.9 550.1L788.9 544.4L789.4 543.8L789.9 543.9L790.9 547.1L792.9 558.0L793.4 559.5L793.9 560.0L794.4 559.8L794.9 558.7L797.9 546.9L798.4 546.1L798.9 546.1L799.9 548.2L802.4 559.1L803.4 561.2L803.9 561.1L804.9 558.7L807.4 547.5L807.9 546.3L808.4 546.0L808.9 546.7L809.4 548.2L811.9 562.6L812.4 564.6L812.9 565.7L813.4 565.6L813.9 564.4L816.9 545.2L817.4 543.5L817.9 543.1L818.4 544.0L818.9 546.3L821.4 565.9L821.9 568.4L822.4 569.6L822.9 569.2L823.4 567.4L825.9 547.2L826.9 542.4L827.4 542.2L827.9 543.4L828.4 546.0L830.9 565.9L831.4 568.0L831.9 568.9L832.4 568.3L832.9 566.4L835.4 548.7L836.4 545.1L836.9 545.1L837.4 546.2L839.9 560.7L840.9 564.5L841.4 565.0L841.9 564.6L842.4 563.2L844.9 551.1L845.9 548.6L846.4 548.6L847.4 550.7L849.9 561.2L850.4 562.5L850.9 563.0L851.4 562.8L851.9 561.8L854.9 549.7L855.4 548.6L855.9 548.3L856.4 548.8L856.9 550.2L859.4 562.7L859.9 564.4L860.4 565.3L860.9 565.2L861.4 564.1L864.4 546.7L864.9 545.1L865.4 544.6L865.9 545.4L866.4 547.4L868.9 565.6L869.4 567.9L869.9 569.1L870.4 568.8L870.9 567.1L873.4 547.3L874.4 542.4L874.9 542.1L875.4 543.3L875.9 545.9L878.4 566.3L878.9 568.7L879.4 569.6L879.9 569.1L880.4 567.1L882.9 548.0L883.9 544.0L884.4 543.9L884.9 545.1L887.4 561.3L888.4 565.6L888.9 566.2L889.4 565.7L889.9 564.1L892.4 550.4L893.4 547.7L893.9 547.7L894.9 550.1L896.9 559.5L897.9 562.5L898.4 563.0L898.9 562.7L899.4 561.6L901.9 551.3L902.9 548.7L903.4 548.5L903.9 549.0L904.4 550.3L907.4 562.9L907.9 563.7L908.4 563.5L909.4 560.7L911.9 546.9L912.4 545.5L912.9 545.0L913.4 545.6L913.9 547.4L916.4 563.7L916.9 565.9L917.4 566.9L917.9 566.7L918.4 565.1L921.4 543.2L921.9 541.3L922.4 540.8L922.9 541.9L923.4 544.3L925.9 564.5L926.4 566.9L926.9 567.9L927.4 567.3L927.9 565.3L930.4 545.0L931.4 540.4L931.9 540.2L932.4 541.4L935.4 561.7L935.9 563.5L936.4 564.1L936.9 563.4L937.4 561.6L940.4 543.4L941.4 539.7L942.1 538.4L942.6 538.4L943.1 538.9L946.9 545.4L949.9 552.9L950.9 553.6L951.9 553.5L952.9 552.1L954.9 547.7L955.4 547.2L955.9 547.1L956.9 549.2L958.9 554.9L959.4 555.6L959.9 555.8L960.4 555.5L960.9 554.5L963.9 543.3L964.9 541.4L965.4 541.3L965.9 541.8L968.9 549.7L969.4 550.4L969.9 550.5L970.4 550.1L970.9 549.2L973.4 541.0L974.4 538.7L974.9 538.2L975.4 538.2L975.9 538.6L978.4 543.6L979.4 544.7L979.9 544.8L980.9 543.8L983.9 537.5L984.9 536.8L985.9 537.4L988.9 542.7L989.9 543.7L990.4 543.7L991.4 543.1L993.4 540.2L993.9 539.6L994.4 539.4L995.4 540.2L997.4 543.5L998.4 544.7L1000.4 545.2L1002.4 546.9L1006.4 551.9L1012.4 561.3L1016.9 567.7L1023.4 577.7L1026.4 581.0L1027.9 581.8L1028.9 582.0L1030.4 581.8L1031.9 581.4L1034.9 579.6L1038.4 576.6L1045.4 569.6L1048.9 565.1L1055.4 554.3L1057.9 550.6L1060.4 547.7L1061.9 546.6L1062.9 546.2L1064.9 546.0L1067.9 546.5L1077.9 549.5L1084.4 550.8L1094.9 552.5L1104.0 553.5" fill="none" stroke="#24a436" stroke-opacity="0.30" stroke-width="6" stroke-linejoin="round" stroke-linecap="square" />
<path d="M662.9 743.5L672.4 742.9L674.4 742.0L676.4 740.2L678.9 737.1L680.4 734.4L685.4 719.5L687.9 710.6L690.9 698.4L695.4 676.9L703.9 629.5L709.9 591.6L712.9 575.4L715.9 563.8L722.4 542.2L727.9 518.5L731.4 508.9L732.4 507.0L733.4 505.8L733.9 505.6L734.4 505.7L734.9 506.1L736.4 508.9L740.9 523.2L747.4 541.8L753.4 556.9L754.9 559.6L756.4 560.9L762.9 560.8L774.9 560.0L775.9 559.6L777.4 557.8L777.9 557.5L778.4 557.5L779.4 558.8L780.9 562.6L781.4 563.3L781.9 563.5L782.4 563.1L782.9 562.3L785.4 555.8L785.9 555.1L786.4 554.8L786.9 555.0L787.4 555.6L789.9 560.2L790.4 560.6L790.9 560.7L791.9 559.8L793.9 556.1L794.9 554.9L795.4 554.7L796.4 555.2L798.9 558.9L799.9 559.6L800.9 559.1L803.4 554.9L804.4 554.0L804.9 554.1L805.4 554.5L807.9 559.6L808.9 560.7L809.4 560.6L809.9 560.0L812.4 553.9L813.4 552.6L813.9 552.8L814.4 553.4L816.9 560.6L817.4 561.5L817.9 561.9L818.4 561.7L818.9 560.9L821.4 553.3L821.9 552.4L822.4 552.0L822.9 552.3L823.4 553.1L825.9 560.6L826.4 561.4L826.9 561.7L827.4 561.4L827.9 560.6L830.4 553.9L830.9 553.2L831.4 552.9L831.9 553.2L832.4 553.9L834.9 559.6L835.4 560.2L835.9 560.3L836.9 559.5L839.4 554.9L840.4 554.3L841.4 554.9L843.9 558.9L844.9 559.5L845.9 559.0L848.9 554.5L849.4 554.3L849.9 554.4L850.9 555.5L852.9 559.3L853.9 560.2L854.4 560.1L855.4 558.8L857.4 554.2L858.4 553.0L858.9 553.2L859.9 554.8L861.9 560.3L862.4 561.2L862.9 561.6L863.4 561.4L863.9 560.7L866.4 553.3L866.9 552.4L867.4 552.0L867.9 552.3L868.4 553.1L870.9 560.7L871.4 561.6L871.9 561.9L872.4 561.6L872.9 560.8L875.4 553.6L875.9 552.8L876.4 552.5L876.9 552.8L877.4 553.6L879.9 559.9L880.4 560.6L880.9 560.8L881.9 559.8L883.9 555.5L884.9 554.1L885.4 553.9L886.4 554.7L888.9 559.0L889.9 559.6L890.9 559.0L893.4 555.1L894.4 554.5L894.9 554.6L895.9 555.6L897.9 559.1L898.9 559.9L899.4 559.8L899.9 559.4L902.4 554.5L903.4 553.5L903.9 553.6L904.4 554.1L906.9 560.0L907.9 561.2L908.4 561.0L908.9 560.4L911.4 553.4L911.9 552.4L912.4 552.0L912.9 552.2L913.4 553.0L915.9 560.5L916.4 561.4L916.9 561.7L917.4 561.5L917.9 560.6L920.4 553.0L920.9 552.2L921.4 551.8L921.9 552.1L922.4 552.9L924.9 559.7L925.4 560.5L925.9 560.7L926.4 560.4L926.9 559.6L929.4 553.7L929.9 553.1L930.4 552.9L931.4 553.7L933.9 558.4L934.9 559.1L935.9 558.3L938.4 554.2L939.4 553.6L940.4 554.1L942.9 558.0L943.9 558.7L944.4 558.6L945.4 557.5L947.4 553.8L948.4 552.9L948.9 553.0L949.9 554.2L951.9 558.7L952.9 559.8L953.4 559.7L954.4 558.2L956.4 552.8L956.9 551.9L957.4 551.5L957.9 551.7L958.4 552.4L960.9 559.7L961.4 560.6L961.9 561.0L962.4 560.8L962.9 560.0L965.4 552.4L965.9 551.6L966.4 551.2L966.9 551.5L967.4 552.3L969.9 559.8L970.4 560.6L970.9 560.9L971.4 560.6L971.9 559.8L974.4 553.4L974.9 552.7L975.4 552.5L976.4 553.5L978.9 559.0L979.4 559.6L979.9 559.8L980.9 559.0L982.9 555.4L983.9 554.2L984.4 554.1L985.4 554.8L987.9 558.8L988.9 559.5L989.9 559.0L992.4 555.2L993.4 554.5L993.9 554.6L994.4 555.2L995.9 557.8L996.9 558.9L997.9 558.9L999.9 558.1L1002.4 558.5L1011.9 560.7L1021.4 563.5L1025.9 566.2L1033.9 572.5L1037.4 575.0L1040.9 576.7L1043.9 577.2L1046.4 576.7L1049.9 574.7L1057.9 568.5L1065.4 561.4L1067.4 559.9L1068.9 559.3L1074.9 558.4L1084.9 557.6L1094.4 557.1L1104.0 557.0" fill="none" stroke="#24a436" stroke-opacity="0.50" stroke-width="6" stroke-linejoin="round" stroke-linecap="square" />
<path d="M662.9 755.2L674.4 754.6L675.9 754.1L677.4 753.2L681.4 749.6L683.9 746.5L686.9 741.2L689.4 735.0L691.4 728.5L693.4 720.9L696.9 705.0L699.4 689.6L707.4 633.0L713.4 597.5L716.9 580.4L718.4 574.7L722.9 560.3L726.9 546.2L729.4 539.6L731.4 535.2L733.4 531.9L736.9 528.3L739.4 526.6L741.4 526.2L742.4 526.8L743.4 527.9L747.9 535.9L752.9 547.6L757.4 555.7L759.9 559.4L761.4 560.7L762.4 561.0L769.9 560.6L780.9 559.0L782.9 559.4L783.9 559.4L784.9 558.8L786.4 557.3L787.4 557.0L788.4 557.3L790.4 558.9L791.4 559.2L792.4 558.7L794.4 556.6L795.4 556.1L796.4 556.6L798.4 558.8L799.4 559.3L800.4 558.6L802.4 555.6L803.4 555.0L804.4 555.7L806.4 558.9L806.9 559.4L807.4 559.5L808.4 558.6L810.4 555.1L810.9 554.6L811.4 554.5L812.4 555.4L814.4 558.8L814.9 559.2L815.4 559.3L816.4 558.4L817.9 556.0L818.9 555.1L819.9 555.3L821.9 557.8L822.9 558.6L823.9 558.4L825.9 556.3L826.9 555.7L827.9 555.8L830.4 558.0L831.4 558.2L832.4 557.8L834.4 556.0L835.4 555.6L836.4 556.1L838.4 558.2L839.4 558.6L840.4 558.1L842.4 555.5L843.4 555.0L844.4 555.6L846.4 558.7L847.4 559.3L848.4 558.5L850.4 555.1L850.9 554.6L851.4 554.5L852.4 555.4L854.4 558.9L854.9 559.3L855.4 559.4L856.4 558.5L858.4 555.2L858.9 554.8L859.4 554.7L860.4 555.5L861.9 557.8L862.9 558.6L863.9 558.4L865.9 556.0L866.9 555.3L867.9 555.4L870.4 557.6L871.4 557.9L872.4 557.4L874.4 555.6L875.4 555.2L876.4 555.6L878.4 557.5L879.4 557.8L880.4 557.3L882.4 555.0L883.4 554.5L884.4 555.0L886.4 557.8L887.4 558.3L888.4 557.6L890.4 554.3L891.4 553.7L892.4 554.5L894.4 557.9L894.9 558.4L895.4 558.5L896.4 557.6L898.4 554.2L898.9 553.7L899.4 553.6L900.4 554.5L902.4 557.6L903.4 558.1L904.4 557.3L906.4 554.6L907.4 554.3L908.4 555.0L910.4 557.1L911.4 557.4L912.4 556.9L914.4 555.0L915.4 554.8L916.4 555.2L918.4 557.0L919.4 557.3L919.9 557.2L922.4 554.8L923.4 554.4L924.4 554.9L926.4 557.4L927.4 557.9L928.4 557.3L930.4 554.3L931.4 553.7L932.4 554.5L934.4 557.9L934.9 558.3L935.4 558.5L936.4 557.6L938.4 554.1L938.9 553.6L939.4 553.5L940.4 554.4L942.4 557.8L942.9 558.2L943.4 558.3L944.4 557.4L945.9 555.1L946.9 554.1L947.9 554.3L949.9 556.8L950.9 557.5L951.9 557.4L953.9 555.4L954.9 554.8L955.9 554.9L958.4 557.1L959.4 557.4L960.4 557.0L962.4 555.3L963.4 554.9L964.4 555.4L966.4 557.8L967.4 558.3L968.4 557.8L970.4 555.2L971.4 554.7L972.4 555.5L974.4 558.8L975.4 559.4L976.4 558.7L978.4 555.4L978.9 554.9L979.4 554.8L980.4 555.8L982.4 559.4L982.9 559.9L983.4 560.0L984.4 559.2L986.4 556.1L986.9 555.7L987.4 555.7L988.4 556.6L989.9 558.9L990.9 559.8L991.9 559.6L993.9 557.5L994.9 557.1L997.4 558.5L998.4 558.7L1000.4 558.6L1020.4 560.0L1036.9 562.5L1043.4 563.0L1047.4 562.6L1056.4 559.7L1059.9 559.0L1081.9 557.9L1104.0 557.5" fill="none" stroke="#24a436" stroke-opacity="0.75" stroke-width="6" stroke-linejoin="round" stroke-linecap="square" />
<path d="M662.9 763.5L674.4 762.9L676.4 762.6L677.9 762.0L681.4 759.5L683.9 757.0L685.9 754.0L687.9 749.9L689.4 745.3L691.4 737.4L698.4 704.6L707.4 656.3L713.9 619.0L715.9 609.1L718.4 599.0L726.9 569.1L732.4 552.7L733.9 549.8L735.9 547.7L738.4 545.9L742.4 543.8L745.9 542.6L746.9 542.5L747.9 542.9L749.4 544.5L756.4 553.7L758.4 555.9L759.4 556.6L762.4 558.1L764.4 558.8L765.9 559.0L772.4 558.6L787.9 556.8L801.9 555.8L810.9 555.5L848.4 556.7L898.9 556.0L949.9 556.5L956.9 556.9L972.4 558.5L978.9 559.0L1029.9 559.7L1042.4 559.6L1061.4 557.1L1068.4 556.5L1088.9 556.6L1104.0 557.2" fill="none" stroke="#24a436" stroke-opacity="1.00" stroke-width="6" stroke-linejoin="round" stroke-linecap="square" />
<line x1="662.40" y1="550.12" x2="1103.90" y2="550.12" stroke="#24a436" stroke-width="6.1" stroke-dasharray="6.3 9.65" />
<line x1="883.40" y1="462.25" x2="883.40" y2="813.75" stroke="#808080" stroke-width="3" stroke-dasharray="11 5" stroke-dashoffset="10.94" />
<rect x="640.90" y="462.25" width="484.00" height="351.50" fill="none" stroke="#000" stroke-width="3.7" />
<rect x="729.80" y="729.05" width="294.30" height="83.80" fill="#fff" fill-opacity="0.8" />
<text transform="translate(652.35 517.12) scale(0.4601 0.5184)" font-family='"Liberation Sans",sans-serif' font-style="normal" font-size="100" fill="#000" >(</text>
<text transform="translate(669.93 516.45) scale(0.3921 0.4200)" font-family='"Liberation Sans",sans-serif' font-style="normal" font-size="100" fill="#000">e</text>
<text transform="translate(693.33 517.12) scale(0.4564 0.5184)" font-family='"Liberation Sans",sans-serif' font-style="normal" font-size="100" fill="#000" >)</text>
<line x1="737.80" y1="764.85" x2="787.90" y2="764.85" stroke="#24a436" stroke-width="6.2" />
<text transform="translate(824.02 780.35) scale(0.4604 0.4862)" font-family='"Liberation Serif",serif' font-style="italic" font-size="100" fill="#000" >A</text>
<text transform="translate(854.80 780.96) scale(0.4439 0.4996)" font-family='"Liberation Serif",serif' font-style="normal" font-size="100" fill="#000"  stroke="#fff" stroke-width="1.092">(</text>
<text transform="translate(869.51 781.20) scale(0.4695 0.4579)" font-family='"Liberation Serif",serif' font-style="normal" font-size="100" fill="#000" >0</text>
<text transform="translate(892.86 780.96) scale(0.4322 0.4996)" font-family='"Liberation Serif",serif' font-style="normal" font-size="100" fill="#000"  stroke="#fff" stroke-width="1.107">)</text>
<rect x="923.80" y="763.75" width="29.4" height="1.85" fill="#000"/>
<rect x="923.80" y="772.60" width="29.4" height="1.85" fill="#000"/>
<text transform="translate(969.59 780.73) scale(0.5612 0.4837)" font-family='"Liberation Serif",serif' font-style="italic" font-size="100" fill="#000"  stroke="#fff" stroke-width="0.582">S</text>
<text transform="translate(998.98 786.63) scale(0.3088 0.3023)" font-family='"Liberation Serif",serif' font-style="italic" font-size="100" fill="#000"  stroke="#fff" stroke-width="1.339">y</text>
<line x1="662.90" y1="1219.90" x2="662.90" y2="1205.90" stroke="#000" stroke-width="3.7" />
<line x1="883.40" y1="1219.90" x2="883.40" y2="1205.90" stroke="#000" stroke-width="3.7" />
<line x1="1103.90" y1="1219.90" x2="1103.90" y2="1205.90" stroke="#000" stroke-width="3.7" />
<line x1="640.90" y1="1044.15" x2="654.90" y2="1044.15" stroke="#000" stroke-width="3.7" />
<path d="M662.9 1132.0L670.9 1131.7L673.4 1130.4L675.9 1128.1L677.9 1125.9L679.4 1123.2L681.4 1118.4L683.9 1111.1L686.9 1098.7L690.9 1078.1L698.9 1025.6L704.4 993.2L707.9 975.4L711.9 958.2L714.9 947.8L719.9 936.6L721.9 933.6L723.4 932.4L724.4 932.4L724.9 932.6L725.9 933.7L726.9 935.3L728.9 939.8L733.4 952.0L735.9 960.8L742.9 988.5L749.9 1019.8L751.9 1026.0L753.4 1028.5L754.4 1029.0L755.9 1028.2L757.4 1026.5L760.4 1021.9L761.9 1020.1L767.4 1015.3L768.9 1014.6L770.4 1014.4L771.9 1014.8L773.4 1015.5L779.9 1020.0L785.4 1022.2L787.9 1023.5L789.4 1024.9L792.4 1028.5L794.4 1029.9L795.4 1030.0L796.9 1029.7L803.4 1027.3L804.9 1027.1L805.9 1027.4L807.4 1029.5L810.9 1036.8L811.9 1038.2L812.9 1038.8L813.9 1038.6L814.9 1038.1L819.4 1034.2L821.4 1033.1L836.4 1033.1L841.9 1034.2L850.4 1037.2L852.4 1038.3L856.4 1041.4L858.4 1042.4L859.9 1042.7L862.4 1042.5L865.4 1043.7L866.4 1043.3L868.4 1041.6L869.4 1041.3L870.4 1041.9L871.9 1043.6L872.9 1044.3L873.9 1044.1L875.9 1041.6L876.9 1040.8L877.9 1041.1L879.9 1043.9L880.9 1044.7L881.9 1044.3L883.9 1041.5L884.9 1040.8L885.9 1041.2L887.9 1043.8L888.9 1044.4L889.9 1044.0L891.9 1041.8L892.9 1041.3L893.9 1041.6L895.9 1043.4L896.9 1043.9L897.9 1043.6L899.9 1042.1L900.9 1041.6L901.9 1041.6L903.9 1042.2L904.9 1042.2L905.9 1041.6L908.4 1038.8L909.4 1038.2L910.4 1038.3L912.4 1039.3L913.4 1039.1L914.4 1037.9L916.4 1034.7L917.4 1034.0L918.4 1034.3L920.4 1036.1L921.4 1036.0L922.4 1034.8L924.4 1031.6L925.4 1031.1L926.4 1031.9L927.9 1033.9L928.9 1034.7L929.9 1034.5L931.9 1032.8L932.9 1032.6L933.9 1033.5L935.9 1036.6L936.9 1037.6L937.9 1037.7L940.9 1035.9L941.9 1035.9L944.4 1036.7L945.9 1035.9L948.4 1032.6L949.4 1031.7L950.4 1031.5L952.4 1031.8L953.4 1031.3L956.4 1027.1L957.4 1026.4L958.4 1026.8L960.4 1029.1L961.4 1029.5L962.4 1029.0L963.9 1027.7L964.9 1027.6L965.9 1028.7L968.4 1033.4L968.9 1033.8L969.4 1033.8L970.4 1033.0L972.9 1028.5L973.9 1027.7L975.9 1026.9L976.9 1025.6L979.9 1018.0L981.4 1015.1L982.4 1014.3L984.9 1013.7L986.9 1013.0L987.9 1013.1L988.9 1013.9L989.9 1015.5L992.4 1020.7L993.4 1021.8L993.9 1021.9L994.4 1021.6L996.4 1019.7L997.4 1019.4L998.4 1019.9L1000.4 1021.7L1001.4 1021.8L1002.4 1020.8L1004.4 1017.7L1005.4 1017.2L1006.4 1017.8L1008.4 1020.1L1009.4 1020.1L1010.4 1018.9L1011.9 1016.4L1012.9 1015.4L1013.9 1015.5L1015.9 1017.4L1016.9 1017.7L1017.9 1017.0L1020.4 1013.9L1021.4 1013.7L1022.4 1014.1L1024.4 1015.7L1024.9 1016.4L1027.9 1023.9L1028.4 1024.4L1031.9 1024.1L1033.4 1022.8L1036.4 1016.4L1039.4 1011.7L1042.9 1005.6L1045.9 998.8L1054.4 977.0L1056.9 972.0L1059.4 968.6L1060.9 967.5L1065.4 965.6L1069.4 964.3L1074.4 963.0L1091.9 960.2L1098.4 959.5L1104.0 959.2" fill="none" stroke="#a52638" stroke-opacity="0.30" stroke-width="6" stroke-linejoin="round" stroke-linecap="square" />
<path d="M662.9 1149.6L672.4 1149.3L673.9 1148.7L675.9 1147.2L679.4 1143.5L680.9 1141.1L682.9 1136.6L685.4 1129.8L686.9 1124.8L688.9 1116.7L693.4 1094.9L695.4 1083.2L701.9 1040.6L707.4 1008.6L710.4 994.3L714.4 980.3L715.9 975.9L717.4 972.4L718.9 970.1L720.9 968.2L723.4 966.1L725.4 965.0L727.4 964.5L728.9 964.8L730.4 966.4L731.9 968.8L738.4 983.2L745.9 1004.6L747.4 1007.8L748.9 1010.2L752.4 1014.5L756.9 1018.8L761.4 1022.3L772.9 1030.7L779.4 1034.9L785.4 1037.9L792.4 1040.5L800.4 1042.9L807.4 1044.5L814.4 1045.7L836.4 1048.6L845.9 1050.3L849.9 1050.6L852.4 1050.0L858.9 1045.6L860.4 1045.0L861.9 1044.7L871.4 1044.8L874.4 1044.4L877.9 1045.6L878.9 1045.4L880.9 1044.3L881.9 1044.2L882.9 1044.5L884.9 1045.9L885.9 1046.2L886.9 1045.8L888.9 1044.3L889.9 1044.1L890.9 1044.6L892.9 1046.3L893.9 1046.6L894.9 1046.2L896.9 1044.6L897.9 1044.5L901.4 1046.8L902.4 1046.7L904.4 1045.7L905.4 1045.5L906.4 1045.7L908.9 1047.4L909.9 1047.6L912.9 1046.9L913.9 1046.9L916.9 1048.2L917.9 1048.3L921.9 1046.9L922.9 1047.1L924.9 1048.3L925.9 1048.5L926.9 1048.1L928.9 1046.6L929.9 1046.3L930.9 1046.6L932.9 1048.1L933.9 1048.3L934.9 1047.8L937.4 1045.7L938.4 1045.7L940.4 1047.1L941.4 1047.5L942.4 1047.3L945.4 1045.1L946.4 1045.1L948.4 1046.0L949.4 1046.2L950.4 1046.0L953.4 1044.3L954.4 1044.2L956.9 1044.8L957.9 1044.6L958.9 1044.0L961.9 1041.3L962.9 1040.8L964.9 1040.6L965.9 1040.1L968.9 1036.8L969.9 1036.1L970.9 1036.0L972.9 1036.7L973.9 1036.5L974.9 1035.7L976.9 1033.3L977.9 1032.7L978.9 1032.8L980.4 1033.6L981.4 1033.8L982.4 1033.3L985.4 1030.3L986.4 1030.2L988.9 1031.0L989.9 1030.9L993.4 1028.5L994.4 1028.5L996.4 1028.8L997.9 1028.5L1003.9 1026.7L1008.4 1024.1L1013.9 1019.7L1040.4 995.2L1047.4 988.2L1055.9 978.3L1059.4 974.6L1062.4 972.2L1067.4 969.1L1073.9 965.8L1079.4 964.1L1092.9 961.8L1098.9 961.2L1104.0 961.0" fill="none" stroke="#a52638" stroke-opacity="0.50" stroke-width="6" stroke-linejoin="round" stroke-linecap="square" />
<path d="M662.9 1161.3L674.4 1161.0L676.9 1159.8L679.9 1157.1L682.4 1154.2L684.9 1149.8L687.4 1144.0L689.4 1137.9L691.4 1130.4L696.9 1105.9L704.4 1063.7L709.4 1032.9L711.9 1020.4L715.9 1006.0L718.9 998.1L723.9 989.9L725.9 987.5L727.4 986.4L728.9 986.0L730.4 986.4L731.9 987.4L733.9 989.6L742.9 1002.0L753.4 1019.3L755.9 1022.6L758.4 1025.3L764.4 1030.0L770.9 1033.9L779.4 1038.1L789.4 1042.0L819.4 1052.1L827.4 1054.1L834.9 1055.4L855.4 1056.8L873.4 1057.3L894.4 1057.0L920.9 1055.8L936.9 1054.3L945.9 1053.0L949.9 1052.2L955.4 1050.7L968.9 1046.3L980.9 1042.8L984.9 1041.4L988.4 1039.8L992.4 1037.6L996.9 1034.6L1003.4 1029.7L1007.4 1026.3L1023.4 1009.9L1046.9 986.8L1055.4 978.0L1058.4 975.1L1061.4 972.8L1065.4 970.5L1069.9 968.3L1073.9 966.7L1077.9 965.4L1092.4 962.8L1098.4 962.2L1104.0 962.0" fill="none" stroke="#a52638" stroke-opacity="0.75" stroke-width="6" stroke-linejoin="round" stroke-linecap="square" />
<path d="M662.9 1169.7L668.9 1169.5L674.4 1169.0L676.4 1168.7L678.4 1167.8L682.4 1164.6L684.4 1162.4L686.9 1158.5L689.4 1153.1L693.4 1141.2L696.9 1128.1L710.4 1058.0L712.9 1046.8L717.4 1029.1L720.4 1019.5L723.9 1011.6L726.4 1007.7L728.9 1005.1L730.4 1004.0L731.4 1003.6L732.9 1003.7L734.4 1004.4L735.9 1005.3L744.9 1013.7L751.9 1021.0L754.9 1023.7L759.4 1027.0L769.9 1033.9L783.4 1043.4L787.9 1045.9L793.4 1048.4L810.9 1055.5L817.4 1057.7L820.4 1058.3L827.9 1059.3L844.4 1060.8L869.9 1062.3L890.4 1062.7L900.4 1062.5L917.4 1060.5L938.9 1059.2L946.9 1058.5L951.9 1057.7L956.9 1056.4L964.4 1053.9L969.9 1051.7L975.4 1048.8L994.4 1037.5L1001.9 1032.5L1005.9 1029.3L1009.9 1025.5L1023.4 1011.3L1046.9 987.9L1055.9 978.6L1059.4 975.5L1062.4 973.3L1070.9 968.7L1074.9 967.0L1078.4 965.9L1092.9 963.2L1098.9 962.6L1104.0 962.4" fill="none" stroke="#a52638" stroke-opacity="1.00" stroke-width="6" stroke-linejoin="round" stroke-linecap="square" />
<line x1="662.40" y1="956.27" x2="1103.90" y2="956.27" stroke="#a52638" stroke-width="6.1" stroke-dasharray="6.3 9.65" />
<line x1="883.40" y1="868.40" x2="883.40" y2="1219.90" stroke="#808080" stroke-width="3" stroke-dasharray="11 5" stroke-dashoffset="10.94" />
<rect x="640.90" y="868.40" width="484.00" height="351.50" fill="none" stroke="#000" stroke-width="3.7" />
<rect x="729.80" y="1135.20" width="294.30" height="83.80" fill="#fff" fill-opacity="0.8" />
<text transform="translate(652.35 923.27) scale(0.4601 0.5184)" font-family='"Liberation Sans",sans-serif' font-style="normal" font-size="100" fill="#000" >(</text>
<text transform="translate(670.37 922.60) scale(0.5884 0.4200)" font-family='"Liberation Sans",sans-serif' font-style="normal" font-size="100" fill="#000">f</text>
<text transform="translate(690.13 923.27) scale(0.4564 0.5184)" font-family='"Liberation Sans",sans-serif' font-style="normal" font-size="100" fill="#000" >)</text>
<line x1="737.80" y1="1172.60" x2="787.90" y2="1172.60" stroke="#a52638" stroke-width="6.2" />
<text transform="translate(824.02 1188.10) scale(0.4604 0.4862)" font-family='"Liberation Serif",serif' font-style="italic" font-size="100" fill="#000" >A</text>
<text transform="translate(854.80 1188.71) scale(0.4439 0.4996)" font-family='"Liberation Serif",serif' font-style="normal" font-size="100" fill="#000"  stroke="#fff" stroke-width="1.092">(</text>
<text transform="translate(869.51 1188.95) scale(0.4695 0.4579)" font-family='"Liberation Serif",serif' font-style="normal" font-size="100" fill="#000" >0</text>
<text transform="translate(892.86 1188.71) scale(0.4322 0.4996)" font-family='"Liberation Serif",serif' font-style="normal" font-size="100" fill="#000"  stroke="#fff" stroke-width="1.107">)</text>
<rect x="923.80" y="1171.50" width="29.4" height="1.85" fill="#000"/>
<rect x="923.80" y="1180.35" width="29.4" height="1.85" fill="#000"/>
<text transform="translate(969.59 1188.48) scale(0.5612 0.4837)" font-family='"Liberation Serif",serif' font-style="italic" font-size="100" fill="#000"  stroke="#fff" stroke-width="0.582">S</text>
<text transform="translate(997.62 1194.90) scale(0.3771 0.3181)" font-family='"Liberation Serif",serif' font-style="italic" font-size="100" fill="#000"  stroke="#fff" stroke-width="1.188">z</text>
<text transform="translate(71.89 70.32) scale(0.4226 0.4123)" font-family='"Liberation Serif",serif' font-style="normal" font-size="100" fill="#000" >1.0</text>
<text transform="translate(72.13 246.12) scale(0.4127 0.4108)" font-family='"Liberation Serif",serif' font-style="normal" font-size="100" fill="#000" >0.5</text>
<text transform="translate(72.12 421.72) scale(0.4149 0.4093)" font-family='"Liberation Serif",serif' font-style="normal" font-size="100" fill="#000" >0.0</text>
<text transform="translate(71.89 476.67) scale(0.4226 0.4123)" font-family='"Liberation Serif",serif' font-style="normal" font-size="100" fill="#000" >1.0</text>
<text transform="translate(72.13 652.47) scale(0.4127 0.4108)" font-family='"Liberation Serif",serif' font-style="normal" font-size="100" fill="#000" >0.5</text>
<text transform="translate(72.12 828.07) scale(0.4149 0.4093)" font-family='"Liberation Serif",serif' font-style="normal" font-size="100" fill="#000" >0.0</text>
<text transform="translate(71.89 882.82) scale(0.4226 0.4123)" font-family='"Liberation Serif",serif' font-style="normal" font-size="100" fill="#000" >1.0</text>
<text transform="translate(72.13 1058.62) scale(0.4127 0.4108)" font-family='"Liberation Serif",serif' font-style="normal" font-size="100" fill="#000" >0.5</text>
<text transform="translate(72.12 1234.22) scale(0.4149 0.4093)" font-family='"Liberation Serif",serif' font-style="normal" font-size="100" fill="#000" >0.0</text>
<text transform="translate(149.07 1262.60) scale(0.4271 0.4120)" font-family='"Liberation Serif",serif' font-style="normal" font-size="100" fill="#000" >0</text>
<text transform="translate(370.33 1262.60) scale(0.3835 0.4151)" font-family='"Liberation Serif",serif' font-style="normal" font-size="100" fill="#000" >1</text>
<text transform="translate(590.80 1262.60) scale(0.4091 0.4138)" font-family='"Liberation Serif",serif' font-style="normal" font-size="100" fill="#000" >2</text>
<text transform="translate(652.02 1262.60) scale(0.4271 0.4120)" font-family='"Liberation Serif",serif' font-style="normal" font-size="100" fill="#000" >0</text>
<text transform="translate(873.28 1262.60) scale(0.3835 0.4151)" font-family='"Liberation Serif",serif' font-style="normal" font-size="100" fill="#000" >1</text>
<text transform="translate(1093.75 1262.60) scale(0.4091 0.4138)" font-family='"Liberation Serif",serif' font-style="normal" font-size="100" fill="#000" >2</text>
<text transform="translate(281.79 32.00) scale(0.4210 0.4300)" font-family='"Liberation Sans",sans-serif' font-style="normal" font-size="100" fill="#000">Single-site</text>
<text transform="translate(822.81 32.00) scale(0.4157 0.4300)" font-family='"Liberation Sans",sans-serif' font-style="normal" font-size="100" fill="#000">Global</text>
<text transform="translate(533.89 1328.77) scale(0.4491 0.4426)" font-family='"Liberation Sans",sans-serif' font-style="normal" font-size="100" fill="#000" >Time</text>
<text transform="translate(645.83 1328.98) scale(0.6065 0.5308)" font-family='"Liberation Serif",serif' font-style="italic" font-size="100" fill="#000"  stroke="#fff" stroke-width="1.090">t</text>
<text transform="translate(667.20 1341.30) scale(0.6479 0.7205)" font-family='"Liberation Serif",serif' font-style="normal" font-size="100" fill="#000" >/</text>
<text transform="translate(684.90 1328.95) scale(0.5729 0.4902)" font-family='"Liberation Serif",serif' font-style="italic" font-size="100" fill="#000"  stroke="#fff" stroke-width="0.571">T</text>
<g transform="rotate(-90)"><text transform="translate(-857.11 34.80) scale(0.4275 0.4400)" font-family='"Liberation Sans",sans-serif' font-style="normal" font-size="100" fill="#000">Mean operator size</text><text transform="translate(-474.70 34.83) scale(0.5450 0.4592)" font-family='"Liberation Serif",serif' font-style="italic" font-size="100" fill="#000"  stroke="#fff" stroke-width="1.018">μ</text><text transform="translate(-445.80 34.84) scale(0.4322 0.5194)" font-family='"Liberation Serif",serif' font-style="normal" font-size="100" fill="#000"  stroke="#fff" stroke-width="0.864">(</text><text transform="translate(-433.43 34.59) scale(0.6223 0.5185)" font-family='"Liberation Serif",serif' font-style="italic" font-size="100" fill="#000"  stroke="#fff" stroke-width="1.088">t</text><text transform="translate(-414.43 34.84) scale(0.5062 0.5194)" font-family='"Liberation Serif",serif' font-style="normal" font-size="100" fill="#000"  stroke="#fff" stroke-width="0.796">)</text><text transform="translate(-393.60 45.02) scale(0.6407 0.6981)" font-family='"Liberation Serif",serif' font-style="normal" font-size="100" fill="#000" >/</text><text transform="translate(-373.06 34.75) scale(0.5314 0.4841)" font-family='"Liberation Serif",serif' font-style="italic" font-size="100" fill="#000"  stroke="#fff" stroke-width="0.597">N</text></g>
</svg></body></html>
